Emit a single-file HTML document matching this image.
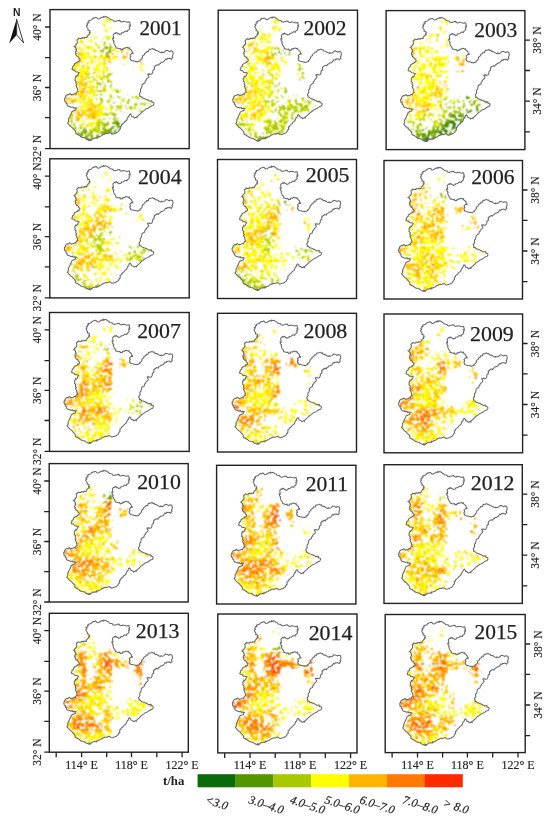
<!DOCTYPE html>
<html><head><meta charset="utf-8"><style>
html,body{margin:0;padding:0;background:#fff;width:550px;height:822px;overflow:hidden}
svg{display:block}
.yr{font-family:"Liberation Serif",serif;fill:#222;stroke:#222;stroke-width:0.25px}
.ax{font-family:"Liberation Serif",serif;font-size:11.5px;fill:#222;stroke:#222;stroke-width:0.15px}
.axb{font-family:"Liberation Serif",serif;font-size:12px;fill:#222;stroke:#222;stroke-width:0.15px}
.lg{font-family:"Liberation Serif",serif;font-style:italic;font-size:12px;fill:#222;stroke:#222;stroke-width:0.2px}
</style></head><body>
<svg width="550" height="822" viewBox="0 0 550 822">
<rect width="550" height="822" fill="#fff"/>
<defs>

<path id="ol" d="M36.8 14.3 L37.9 12.5 L40.1 10.7 L43.0 8.9 L45.9 7.8 L49.5 9.2 L52.8 7.6 L55.7 6.9 L59.4 8.7 L63.0 10.5 L65.9 11.6 L69.5 11.2 L71.7 12.3 L74.6 11.9 L77.5 12.7 L79.7 13.4 L80.4 15.9 L79.7 18.9 L77.5 21.0 L74.6 22.1 L71.7 23.2 L69.5 24.7 L66.6 22.9 L64.4 23.9 L63.4 26.9 L63.0 30.5 L64.1 34.1 L65.9 37.0 L68.8 39.2 L71.7 39.9 L74.6 38.5 L77.2 37.8 L79.4 38.5 L81.5 41.0 L83.0 43.2 L80.8 44.7 L80.1 47.6 L80.4 50.1 L83.0 51.2 L86.6 51.9 L90.3 51.2 L91.7 49.0 L92.4 46.9 L94.6 43.9 L96.8 41.8 L99.7 39.6 L102.6 38.9 L105.4 40.7 L108.1 41.5 L111.4 43.1 L114.1 42.6 L116.8 40.9 L119.5 42.0 L122.8 41.8 L123.1 44.5 L122.8 47.8 L121.7 49.9 L118.4 48.9 L115.7 49.4 L112.4 52.7 L109.2 54.3 L105.9 55.9 L104.3 58.1 L104.0 59.7 L102.8 62.2 L100.3 64.7 L97.8 64.4 L98.4 67.8 L96.0 70.9 L93.5 73.9 L91.6 77.6 L90.4 81.4 L89.2 84.4 L89.8 86.9 L92.3 88.2 L94.7 89.1 L97.9 90.4 L101.9 91.4 L103.9 93.4 L102.9 95.9 L99.9 97.4 L95.9 99.4 L91.9 102.4 L88.9 105.4 L86.9 107.9 L83.9 107.9 L81.4 105.4 L79.4 104.9 L77.9 107.4 L76.9 110.4 L73.9 113.4 L71.4 116.4 L69.9 119.4 L68.9 121.4 L65.9 123.4 L62.9 124.4 L59.9 123.0 L57.2 123.9 L53.5 124.9 L49.9 126.7 L47.2 128.5 L43.5 128.5 L41.3 130.3 L39.0 130.8 L36.3 129.4 L31.7 127.6 L29.0 125.8 L25.8 123.9 L24.4 120.3 L20.8 117.1 L17.6 113.5 L18.5 109.4 L20.8 104.9 L23.5 101.2 L25.9 100.7 L26.6 98.5 L23.0 97.4 L18.6 96.7 L17.2 94.5 L15.0 91.9 L15.0 88.3 L16.4 85.8 L19.4 84.3 L22.3 85.0 L25.9 84.3 L28.1 81.8 L27.0 78.1 L25.9 73.8 L25.2 70.4 L25.5 67.6 L28.1 65.4 L29.2 62.9 L25.2 61.8 L22.6 60.3 L22.6 57.4 L24.4 54.5 L28.1 52.3 L29.9 50.9 L28.8 47.9 L26.3 45.8 L25.5 43.6 L26.6 41.4 L25.9 39.2 L24.4 37.0 L25.2 35.6 L27.4 33.4 L27.7 29.6 L29.9 28.9 L34.3 28.5 L37.2 26.7 L39.4 24.5 L40.1 22.3 L37.9 20.5 L37.2 17.9Z"/>
<path id="olj" d="M36.8 14.3 L37.4 14.1 L38.0 13.8 L37.9 12.5 L39.0 12.5 L38.7 11.2 L40.1 10.7 L41.7 10.3 L42.6 8.9 L43.0 8.9 L43.9 8.2 L45.0 8.3 L45.9 7.8 L46.4 7.8 L48.0 9.4 L49.5 9.2 L51.0 8.2 L52.1 7.6 L52.8 7.6 L53.9 6.8 L54.0 7.7 L55.7 6.9 L56.5 7.1 L58.9 8.7 L59.4 8.7 L60.3 10.0 L61.9 10.2 L63.0 10.5 L63.5 11.5 L65.2 11.9 L65.9 11.6 L67.7 11.2 L68.1 10.8 L69.5 11.2 L69.7 10.9 L70.7 12.1 L71.7 12.3 L71.9 12.4 L73.4 11.7 L74.6 11.9 L76.0 12.1 L76.3 12.4 L77.5 12.7 L78.5 12.3 L79.7 12.5 L79.7 13.4 L80.3 14.8 L79.4 15.5 L80.4 15.9 L80.0 17.0 L79.2 17.2 L79.7 18.9 L78.5 20.3 L77.8 20.7 L77.5 21.0 L77.2 22.0 L75.3 21.5 L74.6 22.1 L73.7 22.9 L72.1 23.2 L71.7 23.2 L71.4 24.2 L69.5 24.9 L69.5 24.7 L67.9 23.9 L67.7 24.1 L66.6 22.9 L65.6 23.9 L65.2 23.3 L64.4 23.9 L63.8 24.4 L63.1 25.4 L63.4 26.9 L63.6 28.8 L62.6 28.6 L63.0 30.5 L64.1 31.8 L63.6 32.5 L64.1 34.1 L64.8 35.6 L65.2 35.9 L65.9 37.0 L66.2 38.4 L67.1 38.5 L68.8 39.2 L70.3 38.9 L71.1 40.3 L71.7 39.9 L72.9 39.9 L73.0 38.9 L74.6 38.5 L74.9 38.8 L76.0 38.0 L77.2 37.8 L78.7 38.6 L79.4 38.2 L79.4 38.5 L80.1 39.7 L80.8 39.9 L81.5 41.0 L81.9 41.2 L82.3 43.2 L83.0 43.2 L83.0 43.9 L81.5 44.0 L80.8 44.7 L80.0 45.3 L80.8 47.2 L80.1 47.6 L80.0 48.9 L80.7 49.6 L80.4 50.1 L81.5 50.9 L81.9 51.1 L83.0 51.2 L83.9 51.4 L85.8 52.0 L86.6 51.9 L87.5 52.3 L89.3 51.6 L90.3 51.2 L90.0 50.5 L90.9 50.0 L91.7 49.0 L91.9 48.8 L92.4 48.0 L92.4 46.9 L92.9 46.1 L94.2 45.4 L94.6 43.9 L95.1 43.7 L96.6 42.8 L96.8 41.8 L98.5 41.8 L98.8 40.4 L99.7 39.6 L100.2 39.9 L102.3 39.1 L102.6 38.9 L103.8 39.8 L104.8 39.6 L105.4 40.7 L106.7 41.1 L107.4 41.1 L108.1 41.5 L109.4 42.4 L110.5 42.9 L111.4 43.1 L111.6 42.4 L113.1 43.0 L114.1 42.6 L114.6 42.3 L116.1 40.8 L116.8 40.9 L117.7 40.9 L117.9 41.1 L119.5 42.0 L120.3 41.5 L121.2 41.2 L122.8 41.8 L122.8 42.5 L123.2 43.7 L123.1 44.5 L122.6 46.2 L122.2 46.6 L122.8 47.8 L122.1 48.4 L121.5 49.7 L121.7 49.9 L120.4 48.9 L119.7 48.6 L118.4 48.9 L117.6 48.8 L116.7 49.9 L115.7 49.4 L115.1 50.4 L114.0 51.8 L112.4 52.7 L111.1 52.7 L110.4 53.9 L109.2 54.3 L108.8 55.5 L107.2 55.1 L105.9 55.9 L106.0 55.9 L104.2 57.5 L104.3 58.1 L104.4 58.1 L104.3 59.8 L104.0 59.7 L103.4 60.4 L102.8 61.1 L102.8 62.2 L102.7 62.9 L101.8 64.5 L100.3 64.7 L99.6 64.2 L99.4 64.5 L97.8 64.4 L97.9 65.3 L98.9 66.7 L98.4 67.8 L97.3 68.8 L96.2 70.0 L96.0 70.9 L95.1 71.6 L94.8 73.4 L93.5 73.9 L92.1 75.2 L91.9 77.0 L91.6 77.6 L91.6 78.5 L90.5 79.6 L90.4 81.4 L90.7 82.1 L89.8 83.4 L89.2 84.4 L89.6 85.4 L90.0 85.5 L89.8 86.9 L91.0 87.0 L91.5 87.5 L92.3 88.2 L92.8 88.5 L93.8 88.6 L94.7 89.1 L96.1 89.7 L96.1 89.6 L97.9 90.4 L99.2 91.4 L101.1 91.1 L101.9 91.4 L101.8 92.5 L103.1 92.8 L103.9 93.4 L103.9 94.4 L103.2 95.7 L102.9 95.9 L101.7 96.2 L101.4 96.4 L99.9 97.4 L98.3 98.6 L96.6 99.2 L95.9 99.4 L94.9 100.3 L92.9 101.8 L91.9 102.4 L91.5 102.9 L89.9 104.5 L88.9 105.4 L88.2 106.0 L87.0 107.2 L86.9 107.9 L86.4 107.3 L84.5 108.4 L83.9 107.9 L83.5 107.3 L81.5 106.6 L81.4 105.4 L81.5 106.0 L80.4 104.4 L79.4 104.9 L79.4 105.3 L78.6 107.2 L77.9 107.4 L77.9 107.9 L76.9 110.0 L76.9 110.4 L75.4 111.6 L74.8 111.9 L73.9 113.4 L73.3 113.7 L71.6 115.2 L71.4 116.4 L70.3 116.7 L70.5 118.8 L69.9 119.4 L70.1 119.5 L69.1 120.5 L68.9 121.4 L68.1 122.1 L67.6 122.5 L65.9 123.4 L64.2 124.0 L63.4 124.3 L62.9 124.4 L61.9 124.5 L61.0 123.6 L59.9 123.0 L58.6 123.4 L57.7 124.0 L57.2 123.9 L56.0 123.7 L54.3 124.4 L53.5 124.9 L52.7 125.0 L51.4 126.3 L49.9 126.7 L48.4 127.6 L47.5 127.3 L47.2 128.5 L46.1 128.1 L45.3 128.5 L43.5 128.5 L42.5 129.5 L41.3 130.0 L41.3 130.3 L39.9 129.9 L40.4 130.9 L39.0 130.8 L37.7 129.8 L37.9 130.1 L36.3 129.4 L35.2 128.3 L33.4 128.0 L31.7 127.6 L30.4 126.7 L30.1 126.2 L29.0 125.8 L27.8 124.6 L27.4 124.8 L25.8 123.9 L25.8 122.6 L25.4 121.5 L24.4 120.3 L23.3 119.3 L22.4 118.0 L20.8 117.1 L19.1 115.2 L18.2 114.0 L17.6 113.5 L18.5 112.1 L18.6 110.0 L18.5 109.4 L19.2 108.5 L20.2 106.3 L20.8 104.9 L21.6 103.1 L22.1 101.9 L23.5 101.2 L24.1 100.9 L25.7 100.3 L25.9 100.7 L25.8 99.6 L25.9 98.9 L26.6 98.5 L25.0 98.1 L23.5 98.4 L23.0 97.4 L21.3 97.8 L20.3 97.2 L18.6 96.7 L18.1 96.6 L17.1 95.5 L17.2 94.5 L16.2 93.9 L16.1 92.3 L15.0 91.9 L14.6 90.0 L14.6 88.9 L15.0 88.3 L15.3 88.2 L15.7 86.4 L16.4 85.8 L17.4 85.0 L18.7 85.1 L19.4 84.3 L19.9 84.1 L21.6 85.4 L22.3 85.0 L23.7 84.7 L25.4 83.8 L25.9 84.3 L26.0 83.9 L27.2 82.0 L28.1 81.8 L27.8 81.3 L27.4 79.1 L27.0 78.1 L26.0 76.0 L26.9 75.2 L25.9 73.8 L26.3 72.0 L25.0 70.9 L25.2 70.4 L25.1 68.8 L25.0 68.4 L25.5 67.6 L26.1 66.2 L26.5 66.8 L28.1 65.4 L28.0 64.6 L28.7 63.8 L29.2 62.9 L27.2 62.3 L25.9 62.2 L25.2 61.8 L25.0 61.4 L24.0 60.4 L22.6 60.3 L21.9 59.4 L22.6 58.5 L22.6 57.4 L23.0 56.6 L24.1 56.1 L24.4 54.5 L25.3 53.7 L27.4 52.6 L28.1 52.3 L28.1 51.6 L28.7 51.8 L29.9 50.9 L30.0 49.6 L28.6 48.3 L28.8 47.9 L27.6 46.6 L27.0 46.6 L26.3 45.8 L25.7 44.4 L26.1 43.7 L25.5 43.6 L25.4 42.5 L26.0 41.5 L26.6 41.4 L26.2 40.4 L26.5 40.0 L25.9 39.2 L26.0 38.7 L25.3 37.8 L24.4 37.0 L24.6 37.0 L25.2 36.7 L25.2 35.6 L26.3 35.2 L26.3 34.6 L27.4 33.4 L27.3 31.6 L26.9 30.4 L27.7 29.6 L28.1 29.6 L28.8 28.5 L29.9 28.9 L31.8 28.9 L32.1 28.0 L34.3 28.5 L34.7 27.7 L36.8 28.0 L37.2 26.7 L38.1 25.6 L38.6 25.0 L39.4 24.5 L39.4 23.0 L40.0 23.5 L40.1 22.3 L39.7 21.1 L38.7 20.6 L37.9 20.5 L38.0 19.6 L38.1 19.2 L37.2 17.9 L36.5 16.4 L37.6 15.4Z"/>
<clipPath id="clip"><use href="#ol"/></clipPath>
<filter id="cb" x="0" y="0" width="140" height="140" filterUnits="userSpaceOnUse"><feGaussianBlur stdDeviation="2.2"/></filter>
<filter id="dz0" filterUnits="userSpaceOnUse" x="0" y="0" width="140" height="140" color-interpolation-filters="sRGB">
<feGaussianBlur in="SourceGraphic" stdDeviation="1.6" result="b"/>
<feTurbulence type="fractalNoise" baseFrequency="0.3" numOctaves="2" seed="3" result="n"/>
<feColorMatrix in="n" type="matrix" values="0 0 0 0 0 0 0 0 0 0 0 0 0 0 0 1 0 0 0 0" result="na"/>
<feComposite in="b" in2="na" operator="arithmetic" k2="1" k3="-2.4" k4="1.2" result="d"/>
<feComponentTransfer in="d" result="t"><feFuncR type="linear" slope="0" intercept="1"/><feFuncG type="linear" slope="0" intercept="1"/><feFuncB type="linear" slope="0" intercept="1"/><feFuncA type="discrete" tableValues="0 1"/></feComponentTransfer>
<feComponentTransfer in="b" result="bm"><feFuncA type="discrete" tableValues="0 1 1 1 1 1 1 1 1 1 1 1 1 1 1"/></feComponentTransfer>
<feComposite in="t" in2="bm" operator="in"/>
</filter>
<g id="cl0"><path fill="#ffff00" d="M14 6h112v8h-112zM14 14h112v8h-112zM14 22h112v8h-112zM14 30h112v8h-112zM14 38h40v8h-40zM62 38h64v8h-64zM14 46h112v8h-112zM14 54h112v8h-112zM14 62h112v8h-112zM14 70h112v8h-112zM14 78h112v8h-112zM14 86h112v8h-112zM14 94h112v8h-112zM14 102h112v8h-112zM14 110h48v8h-48zM78 110h48v8h-48zM14 118h16v8h-16zM38 118h16v8h-16zM86 118h40v8h-40zM14 126h16v8h-16zM102 126h24v8h-24z"/><path fill="#a8c800" d="M54 38h8v8h-8zM62 110h16v8h-16zM30 118h8v8h-8zM54 118h32v8h-32zM30 126h72v8h-72z"/></g><g id="cd0"><path fill="#ffb400" d="M14 6h88v8h-88zM14 14h72v8h-72zM118 14h8v8h-8zM14 22h64v8h-64zM110 22h16v8h-16zM14 30h32v8h-32zM102 30h24v8h-24zM30 38h16v8h-16zM62 38h8v8h-8zM94 38h32v8h-32zM30 46h24v8h-24zM62 46h8v8h-8zM86 46h40v8h-40zM14 54h56v8h-56zM78 54h48v8h-48zM14 62h24v8h-24zM46 62h8v8h-8zM78 62h48v8h-48zM14 70h16v8h-16zM38 70h8v8h-8zM86 70h8v8h-8zM14 78h16v8h-16zM38 78h8v8h-8zM54 78h8v8h-8zM30 86h16v8h-16zM14 94h24v8h-24zM46 94h16v8h-16zM46 102h8v8h-8zM30 110h16v8h-16z"/><path fill="#ff7a00" d="M102 6h24v8h-24zM86 14h32v8h-32zM78 22h32v8h-32zM70 30h32v8h-32zM14 38h16v8h-16zM70 38h24v8h-24zM14 46h16v8h-16zM54 46h8v8h-8zM70 46h16v8h-16zM70 54h8v8h-8zM70 62h8v8h-8zM30 70h8v8h-8zM30 78h8v8h-8zM14 86h16v8h-16zM38 94h8v8h-8zM22 102h24v8h-24z"/><path fill="#a8c800" d="M46 30h24v8h-24zM46 38h8v8h-8zM38 62h8v8h-8zM54 62h16v8h-16zM46 70h40v8h-40zM94 70h32v8h-32zM46 78h8v8h-8zM62 78h64v8h-64zM46 86h80v8h-80zM62 94h64v8h-64zM14 102h8v8h-8zM54 102h72v8h-72zM14 110h16v8h-16zM46 110h16v8h-16zM78 110h48v8h-48zM14 118h16v8h-16zM38 118h16v8h-16zM86 118h40v8h-40zM14 126h16v8h-16zM102 126h24v8h-24z"/><path fill="#559600" d="M54 38h8v8h-8zM62 110h16v8h-16zM30 118h8v8h-8zM54 118h32v8h-32zM30 126h72v8h-72z"/></g>
<mask id="m0" maskUnits="userSpaceOnUse" x="0" y="0" width="140" height="140"><g filter="url(#dz0)" fill="#fff"><path fill-opacity="0.37" d="M54 6h8v8h-8zM14 14h8v8h-8zM54 14h8v8h-8zM14 22h32v8h-32zM54 22h8v8h-8zM14 30h48v8h-48zM38 38h16v8h-16zM62 38h16v8h-16zM38 46h8v8h-8zM62 46h16v8h-16zM38 54h8v8h-8zM54 54h8v8h-8zM86 54h8v8h-8zM38 62h8v8h-8zM54 62h8v8h-8zM46 70h16v8h-16zM46 78h24v8h-24zM46 86h16v8h-16zM70 86h32v8h-32zM14 94h16v8h-16zM54 94h40v8h-40zM14 102h8v8h-8zM54 102h16v8h-16zM14 110h24v8h-24zM54 110h8v8h-8zM22 118h8v8h-8zM62 118h8v8h-8zM22 126h16v8h-16zM46 126h8v8h-8zM62 126h8v8h-8z"/><path fill-opacity="0.65" d="M14 38h24v8h-24zM54 38h8v8h-8zM14 46h24v8h-24zM46 46h16v8h-16zM14 54h24v8h-24zM46 54h8v8h-8zM14 62h24v8h-24zM46 62h8v8h-8zM14 70h32v8h-32zM22 78h24v8h-24zM14 86h32v8h-32zM30 94h24v8h-24zM22 102h32v8h-32zM38 110h16v8h-16zM62 110h8v8h-8zM30 118h32v8h-32zM38 126h8v8h-8zM54 126h8v8h-8z"/></g></mask>
<g id="c0"><path fill="#ffff00" d="M14 6h88v8h-88zM14 14h72v8h-72zM118 14h8v8h-8zM14 22h64v8h-64zM110 22h16v8h-16zM14 30h32v8h-32zM102 30h24v8h-24zM30 38h16v8h-16zM62 38h8v8h-8zM94 38h32v8h-32zM30 46h24v8h-24zM62 46h8v8h-8zM86 46h40v8h-40zM14 54h56v8h-56zM78 54h48v8h-48zM14 62h24v8h-24zM46 62h8v8h-8zM78 62h48v8h-48zM14 70h16v8h-16zM38 70h8v8h-8zM86 70h8v8h-8zM14 78h16v8h-16zM38 78h8v8h-8zM54 78h8v8h-8zM30 86h16v8h-16zM14 94h24v8h-24zM46 94h16v8h-16zM46 102h8v8h-8zM30 110h16v8h-16z"/><path fill="#ffb400" d="M102 6h24v8h-24zM86 14h32v8h-32zM78 22h32v8h-32zM70 30h32v8h-32zM14 38h16v8h-16zM70 38h24v8h-24zM14 46h16v8h-16zM54 46h8v8h-8zM70 46h16v8h-16zM70 54h8v8h-8zM70 62h8v8h-8zM30 70h8v8h-8zM30 78h8v8h-8zM14 86h16v8h-16zM38 94h8v8h-8zM22 102h24v8h-24z"/><path fill="#a8c800" d="M46 30h24v8h-24zM46 38h8v8h-8zM38 62h8v8h-8zM54 62h16v8h-16zM46 70h40v8h-40zM94 70h32v8h-32zM46 78h8v8h-8zM62 78h64v8h-64zM46 86h80v8h-80zM62 94h64v8h-64zM14 102h8v8h-8zM54 102h72v8h-72zM14 110h16v8h-16zM46 110h16v8h-16zM78 110h48v8h-48zM14 118h16v8h-16zM38 118h16v8h-16zM86 118h40v8h-40zM14 126h16v8h-16zM102 126h24v8h-24z"/><path fill="#559600" d="M54 38h8v8h-8zM62 110h16v8h-16zM30 118h8v8h-8zM54 118h32v8h-32zM30 126h72v8h-72z"/></g>
<filter id="dz1" filterUnits="userSpaceOnUse" x="0" y="0" width="140" height="140" color-interpolation-filters="sRGB">
<feGaussianBlur in="SourceGraphic" stdDeviation="1.6" result="b"/>
<feTurbulence type="fractalNoise" baseFrequency="0.3" numOctaves="2" seed="10" result="n"/>
<feColorMatrix in="n" type="matrix" values="0 0 0 0 0 0 0 0 0 0 0 0 0 0 0 1 0 0 0 0" result="na"/>
<feComposite in="b" in2="na" operator="arithmetic" k2="1" k3="-2.4" k4="1.2" result="d"/>
<feComponentTransfer in="d" result="t"><feFuncR type="linear" slope="0" intercept="1"/><feFuncG type="linear" slope="0" intercept="1"/><feFuncB type="linear" slope="0" intercept="1"/><feFuncA type="discrete" tableValues="0 1"/></feComponentTransfer>
<feComponentTransfer in="b" result="bm"><feFuncA type="discrete" tableValues="0 1 1 1 1 1 1 1 1 1 1 1 1 1 1"/></feComponentTransfer>
<feComposite in="t" in2="bm" operator="in"/>
</filter>
<g id="cl1"><path fill="#ffff00" d="M14 6h112v8h-112zM14 14h88v8h-88zM110 14h16v8h-16zM14 22h64v8h-64zM102 22h24v8h-24zM14 30h48v8h-48zM94 30h32v8h-32zM14 38h40v8h-40zM86 38h40v8h-40zM14 46h112v8h-112zM14 54h112v8h-112zM14 62h112v8h-112zM14 70h112v8h-112zM14 78h112v8h-112zM14 86h112v8h-112zM14 94h112v8h-112zM14 102h112v8h-112zM14 110h112v8h-112zM14 118h112v8h-112zM14 126h24v8h-24zM54 126h72v8h-72z"/><path fill="#a8c800" d="M102 14h8v8h-8zM78 22h24v8h-24zM62 30h32v8h-32zM54 38h32v8h-32zM38 126h16v8h-16z"/></g><g id="cd1"><path fill="#ffb400" d="M14 6h104v8h-104zM14 14h88v8h-88zM14 22h64v8h-64zM14 30h16v8h-16zM38 30h24v8h-24zM14 38h16v8h-16zM38 38h16v8h-16zM14 46h32v8h-32zM54 46h24v8h-24zM14 54h56v8h-56zM14 62h32v8h-32zM54 62h16v8h-16zM30 70h24v8h-24zM22 78h8v8h-8zM38 78h16v8h-16zM30 86h16v8h-16zM22 94h16v8h-16zM46 94h8v8h-8zM22 102h8v8h-8zM38 102h16v8h-16zM30 110h16v8h-16z"/><path fill="#a8c800" d="M118 6h8v8h-8zM110 14h16v8h-16zM102 22h24v8h-24zM94 30h32v8h-32zM86 38h40v8h-40zM78 46h48v8h-48zM70 54h56v8h-56zM46 62h8v8h-8zM70 62h56v8h-56zM14 70h16v8h-16zM54 70h72v8h-72zM14 78h8v8h-8zM54 78h72v8h-72zM46 86h80v8h-80zM54 94h72v8h-72zM14 102h8v8h-8zM54 102h72v8h-72zM14 110h16v8h-16zM46 110h80v8h-80zM14 118h112v8h-112zM14 126h24v8h-24zM54 126h72v8h-72z"/><path fill="#559600" d="M102 14h8v8h-8zM78 22h24v8h-24zM62 30h32v8h-32zM54 38h32v8h-32zM38 126h16v8h-16z"/><path fill="#ff7a00" d="M30 30h8v8h-8zM30 38h8v8h-8zM46 46h8v8h-8zM30 78h8v8h-8zM14 86h16v8h-16zM14 94h8v8h-8zM38 94h8v8h-8zM30 102h8v8h-8z"/></g>
<mask id="m1" maskUnits="userSpaceOnUse" x="0" y="0" width="140" height="140"><g filter="url(#dz1)" fill="#fff"><path fill-opacity="0.37" d="M54 6h8v8h-8zM54 14h8v8h-8zM30 22h8v8h-8zM46 22h8v8h-8zM14 30h40v8h-40zM14 38h24v8h-24zM54 38h16v8h-16zM14 46h24v8h-24zM54 46h16v8h-16zM14 54h16v8h-16zM78 54h8v8h-8zM38 62h24v8h-24zM78 62h8v8h-8zM14 70h16v8h-16zM54 70h8v8h-8zM54 78h16v8h-16zM46 86h16v8h-16zM70 86h32v8h-32zM22 94h8v8h-8zM54 94h8v8h-8zM14 102h8v8h-8zM46 102h8v8h-8zM70 102h8v8h-8zM14 110h24v8h-24zM22 118h8v8h-8zM62 118h8v8h-8zM22 126h16v8h-16zM46 126h8v8h-8zM62 126h8v8h-8z"/><path fill-opacity="0.65" d="M38 22h8v8h-8zM38 38h16v8h-16zM38 46h16v8h-16zM30 54h8v8h-8zM46 54h16v8h-16zM14 62h24v8h-24zM30 70h24v8h-24zM22 78h32v8h-32zM14 86h32v8h-32zM30 94h24v8h-24zM62 94h32v8h-32zM22 102h24v8h-24zM62 102h8v8h-8zM46 110h24v8h-24zM30 118h8v8h-8zM46 118h16v8h-16zM38 126h8v8h-8zM54 126h8v8h-8z"/></g></mask>
<g id="c1"><path fill="#ffff00" d="M14 6h104v8h-104zM14 14h88v8h-88zM14 22h64v8h-64zM14 30h16v8h-16zM38 30h24v8h-24zM14 38h16v8h-16zM38 38h16v8h-16zM14 46h32v8h-32zM54 46h24v8h-24zM14 54h56v8h-56zM14 62h32v8h-32zM54 62h16v8h-16zM30 70h24v8h-24zM22 78h8v8h-8zM38 78h16v8h-16zM30 86h16v8h-16zM22 94h16v8h-16zM46 94h8v8h-8zM22 102h8v8h-8zM38 102h16v8h-16zM30 110h16v8h-16z"/><path fill="#a8c800" d="M118 6h8v8h-8zM110 14h16v8h-16zM102 22h24v8h-24zM94 30h32v8h-32zM86 38h40v8h-40zM78 46h48v8h-48zM70 54h56v8h-56zM46 62h8v8h-8zM70 62h56v8h-56zM14 70h16v8h-16zM54 70h72v8h-72zM14 78h8v8h-8zM54 78h72v8h-72zM46 86h80v8h-80zM54 94h72v8h-72zM14 102h8v8h-8zM54 102h72v8h-72zM14 110h16v8h-16zM46 110h80v8h-80zM14 118h112v8h-112zM14 126h24v8h-24zM54 126h72v8h-72z"/><path fill="#559600" d="M102 14h8v8h-8zM78 22h24v8h-24zM62 30h32v8h-32zM54 38h32v8h-32zM38 126h16v8h-16z"/><path fill="#ffb400" d="M30 30h8v8h-8zM30 38h8v8h-8zM46 46h8v8h-8zM30 78h8v8h-8zM14 86h16v8h-16zM14 94h8v8h-8zM38 94h8v8h-8zM30 102h8v8h-8z"/></g>
<filter id="dz2" filterUnits="userSpaceOnUse" x="0" y="0" width="140" height="140" color-interpolation-filters="sRGB">
<feGaussianBlur in="SourceGraphic" stdDeviation="1.6" result="b"/>
<feTurbulence type="fractalNoise" baseFrequency="0.3" numOctaves="2" seed="17" result="n"/>
<feColorMatrix in="n" type="matrix" values="0 0 0 0 0 0 0 0 0 0 0 0 0 0 0 1 0 0 0 0" result="na"/>
<feComposite in="b" in2="na" operator="arithmetic" k2="1" k3="-2.4" k4="1.2" result="d"/>
<feComponentTransfer in="d" result="t"><feFuncR type="linear" slope="0" intercept="1"/><feFuncG type="linear" slope="0" intercept="1"/><feFuncB type="linear" slope="0" intercept="1"/><feFuncA type="discrete" tableValues="0 1"/></feComponentTransfer>
<feComponentTransfer in="b" result="bm"><feFuncA type="discrete" tableValues="0 1 1 1 1 1 1 1 1 1 1 1 1 1 1"/></feComponentTransfer>
<feComposite in="t" in2="bm" operator="in"/>
</filter>
<g id="cl2"><path fill="#ffff00" d="M14 6h112v8h-112zM14 14h112v8h-112zM14 22h112v8h-112zM14 30h112v8h-112zM14 38h112v8h-112zM14 46h104v8h-104zM14 54h96v8h-96zM14 62h80v8h-80zM14 70h64v8h-64zM86 70h8v8h-8zM14 78h64v8h-64zM86 78h8v8h-8zM14 86h64v8h-64zM86 86h8v8h-8zM14 94h64v8h-64zM14 102h48v8h-48zM14 110h40v8h-40zM14 118h16v8h-16zM14 126h16v8h-16z"/><path fill="#a8c800" d="M118 46h8v8h-8zM110 54h16v8h-16zM94 62h32v8h-32zM78 70h8v8h-8zM94 70h32v8h-32zM78 78h8v8h-8zM94 78h32v8h-32zM78 86h8v8h-8zM94 86h32v8h-32zM78 94h48v8h-48zM62 102h64v8h-64zM54 110h8v8h-8zM70 110h56v8h-56zM30 118h24v8h-24zM62 118h64v8h-64zM30 126h8v8h-8zM46 126h8v8h-8zM62 126h64v8h-64z"/><path fill="#559600" d="M62 110h8v8h-8zM54 118h8v8h-8zM38 126h8v8h-8zM54 126h8v8h-8z"/></g><g id="cd2"><path fill="#ffb400" d="M14 6h104v8h-104zM14 14h88v8h-88zM14 22h72v8h-72zM14 30h64v8h-64zM30 38h40v8h-40zM14 46h56v8h-56zM14 54h56v8h-56zM14 62h56v8h-56zM14 70h40v8h-40zM14 78h32v8h-32zM54 78h16v8h-16zM30 86h24v8h-24zM22 94h8v8h-8zM46 94h8v8h-8zM22 102h16v8h-16zM46 102h8v8h-8z"/><path fill="#ff7a00" d="M118 6h8v8h-8zM102 14h24v8h-24zM86 22h40v8h-40zM78 30h48v8h-48zM14 38h16v8h-16zM70 38h56v8h-56zM70 46h48v8h-48zM70 54h40v8h-40zM70 62h24v8h-24zM54 70h24v8h-24zM46 78h8v8h-8zM14 86h16v8h-16zM14 94h8v8h-8zM30 94h16v8h-16z"/><path fill="#559600" d="M118 46h8v8h-8zM110 54h16v8h-16zM94 62h32v8h-32zM78 70h8v8h-8zM94 70h32v8h-32zM78 78h8v8h-8zM94 78h32v8h-32zM78 86h8v8h-8zM94 86h32v8h-32zM78 94h48v8h-48zM62 102h64v8h-64zM54 110h8v8h-8zM70 110h56v8h-56zM30 118h24v8h-24zM62 118h64v8h-64zM30 126h8v8h-8zM46 126h8v8h-8zM62 126h64v8h-64z"/><path fill="#a8c800" d="M86 70h8v8h-8zM70 78h8v8h-8zM86 78h8v8h-8zM54 86h24v8h-24zM86 86h8v8h-8zM54 94h24v8h-24zM14 102h8v8h-8zM38 102h8v8h-8zM54 102h8v8h-8zM14 110h40v8h-40zM14 118h16v8h-16zM14 126h16v8h-16z"/><path fill="#0b6b0b" d="M62 110h8v8h-8zM54 118h8v8h-8zM38 126h8v8h-8zM54 126h8v8h-8z"/></g>
<mask id="m2" maskUnits="userSpaceOnUse" x="0" y="0" width="140" height="140"><g filter="url(#dz2)" fill="#fff"><path fill-opacity="0.37" d="M54 6h8v8h-8zM54 14h8v8h-8zM30 22h24v8h-24zM14 30h32v8h-32zM54 30h8v8h-8zM30 38h24v8h-24zM14 46h32v8h-32zM14 54h16v8h-16zM38 54h8v8h-8zM54 54h8v8h-8zM70 54h8v8h-8zM14 62h16v8h-16zM46 62h16v8h-16zM14 70h24v8h-24zM54 70h8v8h-8zM14 86h8v8h-8zM46 86h56v8h-56zM22 94h8v8h-8zM46 94h48v8h-48zM14 102h16v8h-16zM38 102h24v8h-24zM22 110h16v8h-16zM70 110h8v8h-8zM22 118h8v8h-8zM62 118h8v8h-8zM22 126h8v8h-8zM62 126h8v8h-8z"/><path fill-opacity="0.65" d="M14 38h16v8h-16zM46 46h16v8h-16zM70 46h8v8h-8zM30 54h8v8h-8zM46 54h8v8h-8zM30 62h16v8h-16zM38 70h16v8h-16zM22 78h40v8h-40zM22 86h24v8h-24zM30 94h16v8h-16zM30 102h8v8h-8zM62 102h16v8h-16zM46 110h24v8h-24zM30 118h32v8h-32zM30 126h32v8h-32z"/></g></mask>
<g id="c2"><path fill="#ffff00" d="M14 6h104v8h-104zM14 14h88v8h-88zM14 22h72v8h-72zM14 30h64v8h-64zM30 38h40v8h-40zM14 46h56v8h-56zM14 54h56v8h-56zM14 62h56v8h-56zM14 70h40v8h-40zM14 78h32v8h-32zM54 78h16v8h-16zM30 86h24v8h-24zM22 94h8v8h-8zM46 94h8v8h-8zM22 102h16v8h-16zM46 102h8v8h-8z"/><path fill="#ffb400" d="M118 6h8v8h-8zM102 14h24v8h-24zM86 22h40v8h-40zM78 30h48v8h-48zM14 38h16v8h-16zM70 38h56v8h-56zM70 46h48v8h-48zM70 54h40v8h-40zM70 62h24v8h-24zM54 70h24v8h-24zM46 78h8v8h-8zM14 86h16v8h-16zM14 94h8v8h-8zM30 94h16v8h-16z"/><path fill="#559600" d="M118 46h8v8h-8zM110 54h16v8h-16zM94 62h32v8h-32zM78 70h8v8h-8zM94 70h32v8h-32zM78 78h8v8h-8zM94 78h32v8h-32zM78 86h8v8h-8zM94 86h32v8h-32zM78 94h48v8h-48zM62 102h64v8h-64zM54 110h8v8h-8zM70 110h56v8h-56zM30 118h24v8h-24zM62 118h64v8h-64zM30 126h8v8h-8zM46 126h8v8h-8zM62 126h64v8h-64z"/><path fill="#a8c800" d="M86 70h8v8h-8zM70 78h8v8h-8zM86 78h8v8h-8zM54 86h24v8h-24zM86 86h8v8h-8zM54 94h24v8h-24zM14 102h8v8h-8zM38 102h8v8h-8zM54 102h8v8h-8zM14 110h40v8h-40zM14 118h16v8h-16zM14 126h16v8h-16z"/><path fill="#0b6b0b" d="M62 110h8v8h-8zM54 118h8v8h-8zM38 126h8v8h-8zM54 126h8v8h-8z"/></g>
<filter id="dz3" filterUnits="userSpaceOnUse" x="0" y="0" width="140" height="140" color-interpolation-filters="sRGB">
<feGaussianBlur in="SourceGraphic" stdDeviation="1.6" result="b"/>
<feTurbulence type="fractalNoise" baseFrequency="0.3" numOctaves="2" seed="24" result="n"/>
<feColorMatrix in="n" type="matrix" values="0 0 0 0 0 0 0 0 0 0 0 0 0 0 0 1 0 0 0 0" result="na"/>
<feComposite in="b" in2="na" operator="arithmetic" k2="1" k3="-2.4" k4="1.2" result="d"/>
<feComponentTransfer in="d" result="t"><feFuncR type="linear" slope="0" intercept="1"/><feFuncG type="linear" slope="0" intercept="1"/><feFuncB type="linear" slope="0" intercept="1"/><feFuncA type="discrete" tableValues="0 1"/></feComponentTransfer>
<feComponentTransfer in="b" result="bm"><feFuncA type="discrete" tableValues="0 1 1 1 1 1 1 1 1 1 1 1 1 1 1"/></feComponentTransfer>
<feComposite in="t" in2="bm" operator="in"/>
</filter>
<g id="cl3"><path fill="#ffff00" d="M14 6h112v8h-112zM14 14h112v8h-112zM14 22h112v8h-112zM14 30h112v8h-112zM14 38h112v8h-112zM14 46h112v8h-112zM14 54h112v8h-112zM14 62h112v8h-112zM14 70h112v8h-112zM14 78h112v8h-112zM14 86h112v8h-112zM14 94h112v8h-112zM14 102h112v8h-112zM14 110h112v8h-112zM14 118h112v8h-112zM14 126h32v8h-32zM54 126h72v8h-72z"/><path fill="#a8c800" d="M46 126h8v8h-8z"/></g><g id="cd3"><path fill="#ffb400" d="M14 6h112v8h-112zM14 14h112v8h-112zM14 22h72v8h-72zM94 22h32v8h-32zM14 30h16v8h-16zM38 30h40v8h-40zM94 30h32v8h-32zM30 38h40v8h-40zM86 38h40v8h-40zM14 46h40v8h-40zM62 46h8v8h-8zM86 46h40v8h-40zM14 54h32v8h-32zM54 54h16v8h-16zM78 54h48v8h-48zM14 62h24v8h-24zM78 62h48v8h-48zM14 70h16v8h-16zM70 70h8v8h-8zM86 70h8v8h-8zM14 78h8v8h-8zM30 78h8v8h-8zM54 78h24v8h-24zM22 86h24v8h-24zM54 86h16v8h-16zM22 94h8v8h-8zM46 94h8v8h-8zM62 94h16v8h-16zM46 102h32v8h-32zM30 110h8v8h-8zM46 110h32v8h-32zM38 118h48v8h-48zM54 126h32v8h-32z"/><path fill="#ff7a00" d="M86 22h8v8h-8zM30 30h8v8h-8zM78 30h16v8h-16zM14 38h16v8h-16zM70 38h16v8h-16zM54 46h8v8h-8zM70 46h16v8h-16zM46 54h8v8h-8zM70 54h8v8h-8zM38 62h40v8h-40zM30 70h16v8h-16zM22 78h8v8h-8zM14 86h8v8h-8zM14 94h8v8h-8zM30 94h16v8h-16zM54 94h8v8h-8zM22 102h24v8h-24zM38 110h8v8h-8z"/><path fill="#a8c800" d="M46 70h24v8h-24zM78 70h8v8h-8zM94 70h32v8h-32zM38 78h16v8h-16zM78 78h48v8h-48zM46 86h8v8h-8zM70 86h56v8h-56zM78 94h48v8h-48zM14 102h8v8h-8zM78 102h48v8h-48zM14 110h16v8h-16zM78 110h48v8h-48zM14 118h24v8h-24zM86 118h40v8h-40zM14 126h32v8h-32zM86 126h40v8h-40z"/><path fill="#559600" d="M46 126h8v8h-8z"/></g>
<mask id="m3" maskUnits="userSpaceOnUse" x="0" y="0" width="140" height="140"><g filter="url(#dz3)" fill="#fff"><path fill-opacity="0.37" d="M54 14h8v8h-8zM30 22h16v8h-16zM14 30h32v8h-32zM54 30h8v8h-8zM30 38h32v8h-32zM14 46h24v8h-24zM62 46h16v8h-16zM14 54h16v8h-16zM38 54h8v8h-8zM54 54h8v8h-8zM86 54h8v8h-8zM14 62h16v8h-16zM46 70h16v8h-16zM38 78h8v8h-8zM54 78h16v8h-16zM22 86h8v8h-8zM38 86h8v8h-8zM54 86h8v8h-8zM78 86h24v8h-24zM22 94h8v8h-8zM62 94h16v8h-16zM14 102h8v8h-8zM54 102h16v8h-16zM14 110h24v8h-24zM46 110h16v8h-16zM22 118h40v8h-40zM22 126h8v8h-8zM46 126h16v8h-16z"/><path fill-opacity="0.65" d="M14 38h16v8h-16zM46 46h16v8h-16zM30 54h8v8h-8zM46 54h8v8h-8zM30 62h32v8h-32zM14 70h32v8h-32zM22 78h16v8h-16zM46 78h8v8h-8zM14 86h8v8h-8zM30 86h8v8h-8zM46 86h8v8h-8zM30 94h32v8h-32zM78 94h16v8h-16zM22 102h32v8h-32zM30 126h16v8h-16z"/></g></mask>
<g id="c3"><path fill="#ffff00" d="M14 6h112v8h-112zM14 14h112v8h-112zM14 22h72v8h-72zM94 22h32v8h-32zM14 30h16v8h-16zM38 30h40v8h-40zM94 30h32v8h-32zM30 38h40v8h-40zM86 38h40v8h-40zM14 46h40v8h-40zM62 46h8v8h-8zM86 46h40v8h-40zM14 54h32v8h-32zM54 54h16v8h-16zM78 54h48v8h-48zM14 62h24v8h-24zM78 62h48v8h-48zM14 70h16v8h-16zM70 70h8v8h-8zM86 70h8v8h-8zM14 78h8v8h-8zM30 78h8v8h-8zM54 78h24v8h-24zM22 86h24v8h-24zM54 86h16v8h-16zM22 94h8v8h-8zM46 94h8v8h-8zM62 94h16v8h-16zM46 102h32v8h-32zM30 110h8v8h-8zM46 110h32v8h-32zM38 118h48v8h-48zM54 126h32v8h-32z"/><path fill="#ffb400" d="M86 22h8v8h-8zM30 30h8v8h-8zM78 30h16v8h-16zM14 38h16v8h-16zM70 38h16v8h-16zM54 46h8v8h-8zM70 46h16v8h-16zM46 54h8v8h-8zM70 54h8v8h-8zM38 62h40v8h-40zM30 70h16v8h-16zM22 78h8v8h-8zM14 86h8v8h-8zM14 94h8v8h-8zM30 94h16v8h-16zM54 94h8v8h-8zM22 102h24v8h-24zM38 110h8v8h-8z"/><path fill="#a8c800" d="M46 70h24v8h-24zM78 70h8v8h-8zM94 70h32v8h-32zM38 78h16v8h-16zM78 78h48v8h-48zM46 86h8v8h-8zM70 86h56v8h-56zM78 94h48v8h-48zM14 102h8v8h-8zM78 102h48v8h-48zM14 110h16v8h-16zM78 110h48v8h-48zM14 118h24v8h-24zM86 118h40v8h-40zM14 126h32v8h-32zM86 126h40v8h-40z"/><path fill="#559600" d="M46 126h8v8h-8z"/></g>
<filter id="dz4" filterUnits="userSpaceOnUse" x="0" y="0" width="140" height="140" color-interpolation-filters="sRGB">
<feGaussianBlur in="SourceGraphic" stdDeviation="1.6" result="b"/>
<feTurbulence type="fractalNoise" baseFrequency="0.3" numOctaves="2" seed="31" result="n"/>
<feColorMatrix in="n" type="matrix" values="0 0 0 0 0 0 0 0 0 0 0 0 0 0 0 1 0 0 0 0" result="na"/>
<feComposite in="b" in2="na" operator="arithmetic" k2="1" k3="-2.4" k4="1.2" result="d"/>
<feComponentTransfer in="d" result="t"><feFuncR type="linear" slope="0" intercept="1"/><feFuncG type="linear" slope="0" intercept="1"/><feFuncB type="linear" slope="0" intercept="1"/><feFuncA type="discrete" tableValues="0 1"/></feComponentTransfer>
<feComponentTransfer in="b" result="bm"><feFuncA type="discrete" tableValues="0 1 1 1 1 1 1 1 1 1 1 1 1 1 1"/></feComponentTransfer>
<feComposite in="t" in2="bm" operator="in"/>
</filter>
<g id="cl4"><path fill="#ffff00" d="M14 6h112v8h-112zM14 14h112v8h-112zM14 22h64v8h-64zM94 22h32v8h-32zM14 30h48v8h-48zM86 30h40v8h-40zM14 38h48v8h-48zM78 38h48v8h-48zM14 46h48v8h-48zM70 46h56v8h-56zM14 54h112v8h-112zM14 62h112v8h-112zM14 70h112v8h-112zM14 78h112v8h-112zM14 86h112v8h-112zM14 94h112v8h-112zM14 102h112v8h-112zM14 110h112v8h-112zM14 118h112v8h-112zM14 126h112v8h-112z"/><path fill="#a8c800" d="M78 22h16v8h-16zM62 30h24v8h-24zM62 38h16v8h-16zM62 46h8v8h-8z"/></g><g id="cd4"><path fill="#ffb400" d="M14 6h112v8h-112zM14 14h112v8h-112zM14 22h64v8h-64zM94 22h32v8h-32zM14 30h16v8h-16zM38 30h24v8h-24zM94 30h32v8h-32zM30 38h32v8h-32zM86 38h40v8h-40zM14 46h40v8h-40zM86 46h40v8h-40zM14 54h32v8h-32zM78 54h48v8h-48zM14 62h32v8h-32zM54 62h16v8h-16zM78 62h48v8h-48zM14 70h16v8h-16zM78 70h32v8h-32zM14 78h16v8h-16zM38 78h8v8h-8zM54 78h16v8h-16zM22 86h24v8h-24zM54 86h16v8h-16zM22 94h56v8h-56zM30 102h8v8h-8zM46 102h32v8h-32zM30 110h48v8h-48zM78 118h8v8h-8z"/><path fill="#559600" d="M78 22h16v8h-16zM62 30h24v8h-24zM62 38h16v8h-16zM62 46h8v8h-8z"/><path fill="#ff7a00" d="M30 30h8v8h-8zM86 30h8v8h-8zM14 38h16v8h-16zM78 38h8v8h-8zM54 46h8v8h-8zM70 46h16v8h-16zM46 54h32v8h-32zM46 62h8v8h-8zM70 62h8v8h-8zM30 70h16v8h-16zM54 70h24v8h-24zM30 78h8v8h-8zM14 86h8v8h-8zM14 94h8v8h-8zM14 102h16v8h-16zM38 102h8v8h-8z"/><path fill="#a8c800" d="M46 70h8v8h-8zM110 70h16v8h-16zM46 78h8v8h-8zM70 78h56v8h-56zM46 86h8v8h-8zM70 86h56v8h-56zM78 94h48v8h-48zM78 102h48v8h-48zM14 110h16v8h-16zM78 110h48v8h-48zM14 118h64v8h-64zM86 118h40v8h-40zM14 126h112v8h-112z"/></g>
<mask id="m4" maskUnits="userSpaceOnUse" x="0" y="0" width="140" height="140"><g filter="url(#dz4)" fill="#fff"><path fill-opacity="0.37" d="M54 14h8v8h-8zM30 22h16v8h-16zM14 30h40v8h-40zM30 38h40v8h-40zM14 46h32v8h-32zM70 46h8v8h-8zM14 54h16v8h-16zM86 54h8v8h-8zM14 62h16v8h-16zM86 62h8v8h-8zM46 70h8v8h-8zM54 78h8v8h-8zM22 86h8v8h-8zM54 86h8v8h-8zM78 86h24v8h-24zM22 94h8v8h-8zM54 94h40v8h-40zM14 102h8v8h-8zM38 102h8v8h-8zM54 102h16v8h-16zM14 110h48v8h-48zM46 118h16v8h-16zM46 126h16v8h-16z"/><path fill-opacity="0.65" d="M14 38h16v8h-16zM46 46h16v8h-16zM30 54h32v8h-32zM30 62h32v8h-32zM14 70h32v8h-32zM54 70h8v8h-8zM22 78h32v8h-32zM14 86h8v8h-8zM30 86h24v8h-24zM30 94h24v8h-24zM22 102h16v8h-16zM46 102h8v8h-8zM22 118h24v8h-24zM22 126h24v8h-24z"/></g></mask>
<g id="c4"><path fill="#ffff00" d="M14 6h112v8h-112zM14 14h112v8h-112zM14 22h64v8h-64zM94 22h32v8h-32zM14 30h16v8h-16zM38 30h24v8h-24zM94 30h32v8h-32zM30 38h32v8h-32zM86 38h40v8h-40zM14 46h40v8h-40zM86 46h40v8h-40zM14 54h32v8h-32zM78 54h48v8h-48zM14 62h32v8h-32zM54 62h16v8h-16zM78 62h48v8h-48zM14 70h16v8h-16zM78 70h32v8h-32zM14 78h16v8h-16zM38 78h8v8h-8zM54 78h16v8h-16zM22 86h24v8h-24zM54 86h16v8h-16zM22 94h56v8h-56zM30 102h8v8h-8zM46 102h32v8h-32zM30 110h48v8h-48zM78 118h8v8h-8z"/><path fill="#559600" d="M78 22h16v8h-16zM62 30h24v8h-24zM62 38h16v8h-16zM62 46h8v8h-8z"/><path fill="#ffb400" d="M30 30h8v8h-8zM86 30h8v8h-8zM14 38h16v8h-16zM78 38h8v8h-8zM54 46h8v8h-8zM70 46h16v8h-16zM46 54h32v8h-32zM46 62h8v8h-8zM70 62h8v8h-8zM30 70h16v8h-16zM54 70h24v8h-24zM30 78h8v8h-8zM14 86h8v8h-8zM14 94h8v8h-8zM14 102h16v8h-16zM38 102h8v8h-8z"/><path fill="#a8c800" d="M46 70h8v8h-8zM110 70h16v8h-16zM46 78h8v8h-8zM70 78h56v8h-56zM46 86h8v8h-8zM70 86h56v8h-56zM78 94h48v8h-48zM78 102h48v8h-48zM14 110h16v8h-16zM78 110h48v8h-48zM14 118h64v8h-64zM86 118h40v8h-40zM14 126h112v8h-112z"/></g>
<filter id="dz5" filterUnits="userSpaceOnUse" x="0" y="0" width="140" height="140" color-interpolation-filters="sRGB">
<feGaussianBlur in="SourceGraphic" stdDeviation="1.6" result="b"/>
<feTurbulence type="fractalNoise" baseFrequency="0.3" numOctaves="2" seed="38" result="n"/>
<feColorMatrix in="n" type="matrix" values="0 0 0 0 0 0 0 0 0 0 0 0 0 0 0 1 0 0 0 0" result="na"/>
<feComposite in="b" in2="na" operator="arithmetic" k2="1" k3="-2.4" k4="1.2" result="d"/>
<feComponentTransfer in="d" result="t"><feFuncR type="linear" slope="0" intercept="1"/><feFuncG type="linear" slope="0" intercept="1"/><feFuncB type="linear" slope="0" intercept="1"/><feFuncA type="discrete" tableValues="0 1"/></feComponentTransfer>
<feComponentTransfer in="b" result="bm"><feFuncA type="discrete" tableValues="0 1 1 1 1 1 1 1 1 1 1 1 1 1 1"/></feComponentTransfer>
<feComposite in="t" in2="bm" operator="in"/>
</filter>
<g id="cl5"><path fill="#ffff00" d="M14 6h112v8h-112zM14 14h112v8h-112zM14 22h112v8h-112zM14 30h40v8h-40zM78 30h48v8h-48zM14 38h112v8h-112zM14 46h112v8h-112zM14 54h112v8h-112zM14 62h112v8h-112zM14 70h112v8h-112zM14 78h112v8h-112zM14 86h112v8h-112zM14 94h112v8h-112zM14 102h112v8h-112zM14 110h112v8h-112zM14 118h112v8h-112zM14 126h112v8h-112z"/><path fill="#a8c800" d="M54 30h24v8h-24z"/></g><g id="cd5"><path fill="#ffb400" d="M14 6h24v8h-24zM46 6h64v8h-64zM14 14h24v8h-24zM46 14h56v8h-56zM14 22h24v8h-24zM54 22h32v8h-32zM14 30h16v8h-16zM38 38h32v8h-32zM38 46h8v8h-8zM14 54h16v8h-16zM38 54h8v8h-8zM14 62h24v8h-24zM54 62h32v8h-32zM14 70h16v8h-16zM38 70h8v8h-8zM70 70h16v8h-16zM110 70h16v8h-16zM14 78h16v8h-16zM38 78h88v8h-88zM22 86h104v8h-104zM22 94h16v8h-16zM54 94h72v8h-72zM38 102h8v8h-8zM54 102h72v8h-72zM14 110h16v8h-16zM38 110h8v8h-8zM54 110h72v8h-72zM14 118h112v8h-112zM14 126h112v8h-112z"/><path fill="#ff7a00" d="M38 6h8v8h-8zM110 6h16v8h-16zM38 14h8v8h-8zM102 14h24v8h-24zM38 22h16v8h-16zM86 22h40v8h-40zM30 30h24v8h-24zM78 30h48v8h-48zM14 38h24v8h-24zM70 38h56v8h-56zM14 46h24v8h-24zM46 46h80v8h-80zM30 54h8v8h-8zM46 54h80v8h-80zM38 62h16v8h-16zM86 62h40v8h-40zM30 70h8v8h-8zM46 70h24v8h-24zM86 70h24v8h-24zM30 78h8v8h-8zM14 86h8v8h-8zM14 94h8v8h-8zM38 94h16v8h-16zM14 102h24v8h-24zM46 102h8v8h-8zM30 110h8v8h-8zM46 110h8v8h-8z"/><path fill="#559600" d="M54 30h24v8h-24z"/></g>
<mask id="m5" maskUnits="userSpaceOnUse" x="0" y="0" width="140" height="140"><g filter="url(#dz5)" fill="#fff"><path fill-opacity="0.37" d="M54 14h8v8h-8zM30 22h16v8h-16zM14 30h32v8h-32zM54 30h8v8h-8zM30 38h32v8h-32zM30 46h16v8h-16zM14 54h16v8h-16zM38 54h8v8h-8zM86 54h8v8h-8zM14 62h24v8h-24zM54 62h8v8h-8zM78 62h16v8h-16zM54 78h8v8h-8zM22 86h8v8h-8zM62 86h8v8h-8zM78 86h24v8h-24zM22 94h8v8h-8zM62 94h16v8h-16zM86 94h8v8h-8zM14 102h8v8h-8zM62 102h8v8h-8zM14 110h8v8h-8zM54 110h8v8h-8zM22 118h8v8h-8zM54 118h8v8h-8zM22 126h16v8h-16zM46 126h16v8h-16z"/><path fill-opacity="0.65" d="M14 38h16v8h-16zM14 46h16v8h-16zM46 46h16v8h-16zM70 46h8v8h-8zM30 54h8v8h-8zM46 54h16v8h-16zM38 62h16v8h-16zM14 70h48v8h-48zM22 78h32v8h-32zM14 86h8v8h-8zM30 86h32v8h-32zM30 94h32v8h-32zM78 94h8v8h-8zM22 102h40v8h-40zM22 110h32v8h-32zM30 118h24v8h-24zM38 126h8v8h-8z"/></g></mask>
<g id="c5"><path fill="#ffff00" d="M14 6h24v8h-24zM46 6h64v8h-64zM14 14h24v8h-24zM46 14h56v8h-56zM14 22h24v8h-24zM54 22h32v8h-32zM14 30h16v8h-16zM38 38h32v8h-32zM38 46h8v8h-8zM14 54h16v8h-16zM38 54h8v8h-8zM14 62h24v8h-24zM54 62h32v8h-32zM14 70h16v8h-16zM38 70h8v8h-8zM70 70h16v8h-16zM110 70h16v8h-16zM14 78h16v8h-16zM38 78h88v8h-88zM22 86h104v8h-104zM22 94h16v8h-16zM54 94h72v8h-72zM38 102h8v8h-8zM54 102h72v8h-72zM14 110h16v8h-16zM38 110h8v8h-8zM54 110h72v8h-72zM14 118h112v8h-112zM14 126h112v8h-112z"/><path fill="#ffb400" d="M38 6h8v8h-8zM110 6h16v8h-16zM38 14h8v8h-8zM102 14h24v8h-24zM38 22h16v8h-16zM86 22h40v8h-40zM30 30h24v8h-24zM78 30h48v8h-48zM14 38h24v8h-24zM70 38h56v8h-56zM14 46h24v8h-24zM46 46h80v8h-80zM30 54h8v8h-8zM46 54h80v8h-80zM38 62h16v8h-16zM86 62h40v8h-40zM30 70h8v8h-8zM46 70h24v8h-24zM86 70h24v8h-24zM30 78h8v8h-8zM14 86h8v8h-8zM14 94h8v8h-8zM38 94h16v8h-16zM14 102h24v8h-24zM46 102h8v8h-8zM30 110h8v8h-8zM46 110h8v8h-8z"/><path fill="#559600" d="M54 30h24v8h-24z"/></g>
<filter id="dz6" filterUnits="userSpaceOnUse" x="0" y="0" width="140" height="140" color-interpolation-filters="sRGB">
<feGaussianBlur in="SourceGraphic" stdDeviation="1.6" result="b"/>
<feTurbulence type="fractalNoise" baseFrequency="0.3" numOctaves="2" seed="45" result="n"/>
<feColorMatrix in="n" type="matrix" values="0 0 0 0 0 0 0 0 0 0 0 0 0 0 0 1 0 0 0 0" result="na"/>
<feComposite in="b" in2="na" operator="arithmetic" k2="1" k3="-2.4" k4="1.2" result="d"/>
<feComponentTransfer in="d" result="t"><feFuncR type="linear" slope="0" intercept="1"/><feFuncG type="linear" slope="0" intercept="1"/><feFuncB type="linear" slope="0" intercept="1"/><feFuncA type="discrete" tableValues="0 1"/></feComponentTransfer>
<feComponentTransfer in="b" result="bm"><feFuncA type="discrete" tableValues="0 1 1 1 1 1 1 1 1 1 1 1 1 1 1"/></feComponentTransfer>
<feComposite in="t" in2="bm" operator="in"/>
</filter>
<g id="cl6"><path fill="#ffff00" d="M14 6h112v8h-112zM14 14h112v8h-112zM14 22h112v8h-112zM14 30h40v8h-40zM78 30h48v8h-48zM14 38h112v8h-112zM14 46h40v8h-40zM70 46h56v8h-56zM14 54h40v8h-40zM70 54h56v8h-56zM14 62h112v8h-112zM14 70h16v8h-16zM38 70h16v8h-16zM78 70h48v8h-48zM14 78h16v8h-16zM38 78h88v8h-88zM22 86h104v8h-104zM22 94h8v8h-8zM38 94h8v8h-8zM54 94h72v8h-72zM14 102h16v8h-16zM38 102h88v8h-88zM14 110h112v8h-112zM14 118h112v8h-112zM14 126h112v8h-112z"/><path fill="#a8c800" d="M54 30h24v8h-24z"/><path fill="#ffb400" d="M54 46h16v8h-16zM54 54h16v8h-16zM30 70h8v8h-8zM54 70h24v8h-24zM30 78h8v8h-8zM14 86h8v8h-8zM14 94h8v8h-8zM30 94h8v8h-8zM46 94h8v8h-8zM30 102h8v8h-8z"/></g><g id="cd6"><path fill="#ffb400" d="M14 6h104v8h-104zM14 14h88v8h-88zM14 22h72v8h-72zM14 30h16v8h-16zM38 30h16v8h-16zM30 38h40v8h-40zM14 46h16v8h-16zM38 46h16v8h-16zM14 54h16v8h-16zM38 54h8v8h-8zM14 62h16v8h-16zM38 62h8v8h-8zM14 70h16v8h-16zM78 70h8v8h-8zM14 78h8v8h-8zM38 78h48v8h-48zM30 86h56v8h-56zM22 94h8v8h-8zM62 94h16v8h-16zM14 102h16v8h-16zM46 102h8v8h-8zM62 102h16v8h-16zM14 110h8v8h-8zM30 110h8v8h-8zM46 110h32v8h-32zM14 118h72v8h-72zM14 126h72v8h-72z"/><path fill="#ff7a00" d="M118 6h8v8h-8zM102 14h24v8h-24zM86 22h40v8h-40zM30 30h8v8h-8zM78 30h48v8h-48zM14 38h16v8h-16zM70 38h56v8h-56zM30 46h8v8h-8zM70 46h48v8h-48zM30 54h8v8h-8zM46 54h8v8h-8zM70 54h40v8h-40zM30 62h8v8h-8zM46 62h48v8h-48zM38 70h16v8h-16zM22 78h8v8h-8zM22 86h8v8h-8zM38 94h8v8h-8zM54 94h8v8h-8zM38 102h8v8h-8zM54 102h8v8h-8zM22 110h8v8h-8zM38 110h8v8h-8z"/><path fill="#559600" d="M54 30h24v8h-24z"/><path fill="#ff2a00" d="M54 46h16v8h-16zM54 54h16v8h-16zM30 70h8v8h-8zM54 70h24v8h-24zM30 78h8v8h-8zM14 86h8v8h-8zM14 94h8v8h-8zM30 94h8v8h-8zM46 94h8v8h-8zM30 102h8v8h-8z"/><path fill="#a8c800" d="M118 46h8v8h-8zM110 54h16v8h-16zM94 62h32v8h-32zM86 70h40v8h-40zM86 78h40v8h-40zM86 86h40v8h-40zM78 94h48v8h-48zM78 102h48v8h-48zM78 110h48v8h-48zM86 118h40v8h-40zM86 126h40v8h-40z"/></g>
<mask id="m6" maskUnits="userSpaceOnUse" x="0" y="0" width="140" height="140"><g filter="url(#dz6)" fill="#fff"><path fill-opacity="0.37" d="M54 14h8v8h-8zM30 22h16v8h-16zM14 30h48v8h-48zM30 38h16v8h-16zM54 38h8v8h-8zM14 46h16v8h-16zM46 46h8v8h-8zM14 54h16v8h-16zM38 54h8v8h-8zM14 62h16v8h-16zM14 70h16v8h-16zM54 78h8v8h-8zM54 86h8v8h-8zM78 86h24v8h-24zM22 94h8v8h-8zM62 94h32v8h-32zM14 102h8v8h-8zM62 102h8v8h-8zM14 110h32v8h-32zM22 118h16v8h-16zM54 118h8v8h-8zM22 126h16v8h-16zM46 126h16v8h-16z"/><path fill-opacity="0.65" d="M14 38h16v8h-16zM30 46h8v8h-8zM54 46h8v8h-8zM70 46h8v8h-8zM30 54h8v8h-8zM46 54h16v8h-16zM30 62h32v8h-32zM30 70h32v8h-32zM22 78h32v8h-32zM14 86h40v8h-40zM30 94h32v8h-32zM22 102h40v8h-40zM46 110h16v8h-16zM38 118h16v8h-16zM38 126h8v8h-8z"/></g></mask>
<g id="c6"><path fill="#ffff00" d="M14 6h104v8h-104zM14 14h88v8h-88zM14 22h72v8h-72zM14 30h16v8h-16zM38 30h16v8h-16zM30 38h40v8h-40zM14 46h16v8h-16zM38 46h16v8h-16zM14 54h16v8h-16zM38 54h8v8h-8zM14 62h16v8h-16zM38 62h8v8h-8zM14 70h16v8h-16zM78 70h8v8h-8zM14 78h8v8h-8zM38 78h48v8h-48zM30 86h56v8h-56zM22 94h8v8h-8zM62 94h16v8h-16zM14 102h16v8h-16zM46 102h8v8h-8zM62 102h16v8h-16zM14 110h8v8h-8zM30 110h8v8h-8zM46 110h32v8h-32zM14 118h72v8h-72zM14 126h72v8h-72z"/><path fill="#ffb400" d="M118 6h8v8h-8zM102 14h24v8h-24zM86 22h40v8h-40zM30 30h8v8h-8zM78 30h48v8h-48zM14 38h16v8h-16zM70 38h56v8h-56zM30 46h8v8h-8zM70 46h48v8h-48zM30 54h8v8h-8zM46 54h8v8h-8zM70 54h40v8h-40zM30 62h8v8h-8zM46 62h48v8h-48zM38 70h16v8h-16zM22 78h8v8h-8zM22 86h8v8h-8zM38 94h8v8h-8zM54 94h8v8h-8zM38 102h8v8h-8zM54 102h8v8h-8zM22 110h8v8h-8zM38 110h8v8h-8z"/><path fill="#559600" d="M54 30h24v8h-24z"/><path fill="#ff7a00" d="M54 46h16v8h-16zM54 54h16v8h-16zM30 70h8v8h-8zM54 70h24v8h-24zM30 78h8v8h-8zM14 86h8v8h-8zM14 94h8v8h-8zM30 94h8v8h-8zM46 94h8v8h-8zM30 102h8v8h-8z"/><path fill="#a8c800" d="M118 46h8v8h-8zM110 54h16v8h-16zM94 62h32v8h-32zM86 70h40v8h-40zM86 78h40v8h-40zM86 86h40v8h-40zM78 94h48v8h-48zM78 102h48v8h-48zM78 110h48v8h-48zM86 118h40v8h-40zM86 126h40v8h-40z"/></g>
<filter id="dz7" filterUnits="userSpaceOnUse" x="0" y="0" width="140" height="140" color-interpolation-filters="sRGB">
<feGaussianBlur in="SourceGraphic" stdDeviation="1.6" result="b"/>
<feTurbulence type="fractalNoise" baseFrequency="0.3" numOctaves="2" seed="52" result="n"/>
<feColorMatrix in="n" type="matrix" values="0 0 0 0 0 0 0 0 0 0 0 0 0 0 0 1 0 0 0 0" result="na"/>
<feComposite in="b" in2="na" operator="arithmetic" k2="1" k3="-2.4" k4="1.2" result="d"/>
<feComponentTransfer in="d" result="t"><feFuncR type="linear" slope="0" intercept="1"/><feFuncG type="linear" slope="0" intercept="1"/><feFuncB type="linear" slope="0" intercept="1"/><feFuncA type="discrete" tableValues="0 1"/></feComponentTransfer>
<feComponentTransfer in="b" result="bm"><feFuncA type="discrete" tableValues="0 1 1 1 1 1 1 1 1 1 1 1 1 1 1"/></feComponentTransfer>
<feComposite in="t" in2="bm" operator="in"/>
</filter>
<g id="cl7"><path fill="#ffff00" d="M14 6h112v8h-112zM14 14h112v8h-112zM14 22h112v8h-112zM14 30h56v8h-56zM78 30h48v8h-48zM30 38h40v8h-40zM78 38h48v8h-48zM14 46h40v8h-40zM78 46h48v8h-48zM14 54h40v8h-40zM78 54h48v8h-48zM14 62h56v8h-56zM78 62h48v8h-48zM14 70h112v8h-112zM14 78h40v8h-40zM70 78h56v8h-56zM22 86h104v8h-104zM22 94h104v8h-104zM14 102h8v8h-8zM38 102h88v8h-88zM14 110h112v8h-112zM14 118h112v8h-112zM14 126h112v8h-112z"/><path fill="#ffb400" d="M70 30h8v8h-8zM14 38h16v8h-16zM70 38h8v8h-8zM54 46h24v8h-24zM54 54h24v8h-24zM70 62h8v8h-8zM54 78h16v8h-16zM14 86h8v8h-8zM14 94h8v8h-8zM22 102h16v8h-16z"/></g><g id="cd7"><path fill="#ffb400" d="M14 6h24v8h-24zM46 6h56v8h-56zM14 14h24v8h-24zM46 14h48v8h-48zM14 22h24v8h-24zM54 22h24v8h-24zM118 22h8v8h-8zM14 30h16v8h-16zM38 30h32v8h-32zM110 30h16v8h-16zM30 38h40v8h-40zM102 38h24v8h-24zM38 46h8v8h-8zM94 46h32v8h-32zM14 54h16v8h-16zM86 54h40v8h-40zM14 62h16v8h-16zM54 62h16v8h-16zM78 62h48v8h-48zM46 70h8v8h-8zM78 70h48v8h-48zM30 78h24v8h-24zM70 78h56v8h-56zM30 86h96v8h-96zM22 94h8v8h-8zM62 94h64v8h-64zM62 102h64v8h-64zM14 110h8v8h-8zM46 110h80v8h-80zM14 118h112v8h-112zM14 126h112v8h-112z"/><path fill="#ff7a00" d="M38 6h8v8h-8zM102 6h24v8h-24zM38 14h8v8h-8zM94 14h32v8h-32zM38 22h16v8h-16zM78 22h40v8h-40zM30 30h8v8h-8zM78 30h32v8h-32zM78 38h24v8h-24zM14 46h24v8h-24zM46 46h8v8h-8zM78 46h16v8h-16zM30 54h24v8h-24zM78 54h8v8h-8zM30 62h24v8h-24zM14 70h32v8h-32zM54 70h24v8h-24zM14 78h16v8h-16zM22 86h8v8h-8zM30 94h32v8h-32zM14 102h8v8h-8zM38 102h24v8h-24zM22 110h24v8h-24z"/><path fill="#ff2a00" d="M70 30h8v8h-8zM14 38h16v8h-16zM70 38h8v8h-8zM54 46h24v8h-24zM54 54h24v8h-24zM70 62h8v8h-8zM54 78h16v8h-16zM14 86h8v8h-8zM14 94h8v8h-8zM22 102h16v8h-16z"/></g>
<mask id="m7" maskUnits="userSpaceOnUse" x="0" y="0" width="140" height="140"><g filter="url(#dz7)" fill="#fff"><path fill-opacity="0.37" d="M54 14h8v8h-8zM30 22h16v8h-16zM14 30h32v8h-32zM30 38h32v8h-32zM78 46h8v8h-8zM14 54h16v8h-16zM86 54h8v8h-8zM14 62h16v8h-16zM54 62h8v8h-8zM86 62h8v8h-8zM38 70h8v8h-8zM54 86h8v8h-8zM78 86h24v8h-24zM22 94h8v8h-8zM62 94h32v8h-32zM38 102h8v8h-8zM62 102h8v8h-8zM14 110h8v8h-8zM30 110h32v8h-32zM22 118h8v8h-8zM46 118h16v8h-16zM22 126h16v8h-16zM46 126h16v8h-16z"/><path fill-opacity="0.65" d="M14 38h16v8h-16zM14 46h24v8h-24zM46 46h16v8h-16zM70 46h8v8h-8zM30 54h8v8h-8zM46 54h16v8h-16zM30 62h24v8h-24zM14 70h24v8h-24zM46 70h16v8h-16zM22 78h40v8h-40zM14 86h40v8h-40zM30 94h32v8h-32zM14 102h24v8h-24zM70 102h8v8h-8zM22 110h8v8h-8zM30 118h16v8h-16zM38 126h8v8h-8z"/></g></mask>
<g id="c7"><path fill="#ffff00" d="M14 6h24v8h-24zM46 6h56v8h-56zM14 14h24v8h-24zM46 14h48v8h-48zM14 22h24v8h-24zM54 22h24v8h-24zM118 22h8v8h-8zM14 30h16v8h-16zM38 30h32v8h-32zM110 30h16v8h-16zM30 38h40v8h-40zM102 38h24v8h-24zM38 46h8v8h-8zM94 46h32v8h-32zM14 54h16v8h-16zM86 54h40v8h-40zM14 62h16v8h-16zM54 62h16v8h-16zM78 62h48v8h-48zM46 70h8v8h-8zM78 70h48v8h-48zM30 78h24v8h-24zM70 78h56v8h-56zM30 86h96v8h-96zM22 94h8v8h-8zM62 94h64v8h-64zM62 102h64v8h-64zM14 110h8v8h-8zM46 110h80v8h-80zM14 118h112v8h-112zM14 126h112v8h-112z"/><path fill="#ffb400" d="M38 6h8v8h-8zM102 6h24v8h-24zM38 14h8v8h-8zM94 14h32v8h-32zM38 22h16v8h-16zM78 22h40v8h-40zM30 30h8v8h-8zM78 30h32v8h-32zM78 38h24v8h-24zM14 46h24v8h-24zM46 46h8v8h-8zM78 46h16v8h-16zM30 54h24v8h-24zM78 54h8v8h-8zM30 62h24v8h-24zM14 70h32v8h-32zM54 70h24v8h-24zM14 78h16v8h-16zM22 86h8v8h-8zM30 94h32v8h-32zM14 102h8v8h-8zM38 102h24v8h-24zM22 110h24v8h-24z"/><path fill="#ff7a00" d="M70 30h8v8h-8zM14 38h16v8h-16zM70 38h8v8h-8zM54 46h24v8h-24zM54 54h24v8h-24zM70 62h8v8h-8zM54 78h16v8h-16zM14 86h8v8h-8zM14 94h8v8h-8zM22 102h16v8h-16z"/></g>
<filter id="dz8" filterUnits="userSpaceOnUse" x="0" y="0" width="140" height="140" color-interpolation-filters="sRGB">
<feGaussianBlur in="SourceGraphic" stdDeviation="1.6" result="b"/>
<feTurbulence type="fractalNoise" baseFrequency="0.3" numOctaves="2" seed="59" result="n"/>
<feColorMatrix in="n" type="matrix" values="0 0 0 0 0 0 0 0 0 0 0 0 0 0 0 1 0 0 0 0" result="na"/>
<feComposite in="b" in2="na" operator="arithmetic" k2="1" k3="-2.4" k4="1.2" result="d"/>
<feComponentTransfer in="d" result="t"><feFuncR type="linear" slope="0" intercept="1"/><feFuncG type="linear" slope="0" intercept="1"/><feFuncB type="linear" slope="0" intercept="1"/><feFuncA type="discrete" tableValues="0 1"/></feComponentTransfer>
<feComponentTransfer in="b" result="bm"><feFuncA type="discrete" tableValues="0 1 1 1 1 1 1 1 1 1 1 1 1 1 1"/></feComponentTransfer>
<feComposite in="t" in2="bm" operator="in"/>
</filter>
<g id="cl8"><path fill="#ffff00" d="M14 6h112v8h-112zM14 14h112v8h-112zM14 22h112v8h-112zM14 30h112v8h-112zM30 38h96v8h-96zM14 46h40v8h-40zM62 46h64v8h-64zM14 54h40v8h-40zM62 54h64v8h-64zM14 62h112v8h-112zM14 70h16v8h-16zM38 70h88v8h-88zM14 78h8v8h-8zM30 78h96v8h-96zM22 86h104v8h-104zM22 94h8v8h-8zM54 94h72v8h-72zM14 102h8v8h-8zM46 102h80v8h-80zM14 110h24v8h-24zM46 110h80v8h-80zM14 118h112v8h-112zM14 126h112v8h-112z"/><path fill="#ffb400" d="M14 38h16v8h-16zM54 54h8v8h-8zM30 70h8v8h-8zM22 78h8v8h-8zM14 86h8v8h-8zM14 94h8v8h-8zM30 94h24v8h-24zM22 102h24v8h-24zM38 110h8v8h-8z"/><path fill="#ff7a00" d="M54 46h8v8h-8z"/></g><g id="cd8"><path fill="#ffb400" d="M14 6h96v8h-96zM14 14h88v8h-88zM14 22h80v8h-80zM14 30h16v8h-16zM54 30h32v8h-32zM38 38h40v8h-40zM30 46h24v8h-24zM62 46h8v8h-8zM14 54h16v8h-16zM38 54h16v8h-16zM62 54h8v8h-8zM14 62h24v8h-24zM54 62h16v8h-16zM38 70h16v8h-16zM110 70h16v8h-16zM30 78h16v8h-16zM54 78h72v8h-72zM30 86h96v8h-96zM22 94h8v8h-8zM70 94h56v8h-56zM14 102h8v8h-8zM54 102h72v8h-72zM14 110h8v8h-8zM46 110h80v8h-80zM14 118h112v8h-112zM14 126h112v8h-112z"/><path fill="#ff7a00" d="M110 6h16v8h-16zM102 14h24v8h-24zM94 22h32v8h-32zM30 30h24v8h-24zM86 30h40v8h-40zM30 38h8v8h-8zM78 38h48v8h-48zM14 46h16v8h-16zM70 46h56v8h-56zM30 54h8v8h-8zM70 54h56v8h-56zM38 62h16v8h-16zM70 62h56v8h-56zM14 70h16v8h-16zM54 70h56v8h-56zM14 78h8v8h-8zM46 78h8v8h-8zM22 86h8v8h-8zM54 94h16v8h-16zM46 102h8v8h-8zM22 110h16v8h-16z"/><path fill="#ff2a00" d="M14 38h16v8h-16zM54 46h8v8h-8zM54 54h8v8h-8zM30 70h8v8h-8zM22 78h8v8h-8zM14 86h8v8h-8zM14 94h8v8h-8zM30 94h24v8h-24zM22 102h24v8h-24zM38 110h8v8h-8z"/></g>
<mask id="m8" maskUnits="userSpaceOnUse" x="0" y="0" width="140" height="140"><g filter="url(#dz8)" fill="#fff"><path fill-opacity="0.37" d="M54 14h8v8h-8zM30 22h16v8h-16zM14 30h16v8h-16zM38 30h8v8h-8zM38 38h32v8h-32zM30 46h8v8h-8zM46 46h8v8h-8zM62 46h8v8h-8zM14 54h16v8h-16zM38 54h16v8h-16zM86 54h8v8h-8zM14 62h24v8h-24zM54 62h8v8h-8zM86 62h8v8h-8zM54 78h8v8h-8zM54 86h8v8h-8zM78 86h8v8h-8zM94 86h8v8h-8zM22 94h8v8h-8zM70 94h24v8h-24zM14 102h8v8h-8zM46 102h24v8h-24zM14 110h16v8h-16zM46 110h16v8h-16zM22 118h8v8h-8zM54 118h8v8h-8zM22 126h16v8h-16zM46 126h16v8h-16z"/><path fill-opacity="0.65" d="M30 30h8v8h-8zM14 38h24v8h-24zM14 46h16v8h-16zM54 46h8v8h-8zM70 46h8v8h-8zM30 54h8v8h-8zM54 54h8v8h-8zM38 62h16v8h-16zM14 70h48v8h-48zM22 78h32v8h-32zM14 86h40v8h-40zM86 86h8v8h-8zM30 94h40v8h-40zM22 102h24v8h-24zM30 110h16v8h-16zM30 118h24v8h-24zM38 126h8v8h-8z"/></g></mask>
<g id="c8"><path fill="#ffff00" d="M14 6h96v8h-96zM14 14h88v8h-88zM14 22h80v8h-80zM14 30h16v8h-16zM54 30h32v8h-32zM38 38h40v8h-40zM30 46h24v8h-24zM62 46h8v8h-8zM14 54h16v8h-16zM38 54h16v8h-16zM62 54h8v8h-8zM14 62h24v8h-24zM54 62h16v8h-16zM38 70h16v8h-16zM110 70h16v8h-16zM30 78h16v8h-16zM54 78h72v8h-72zM30 86h96v8h-96zM22 94h8v8h-8zM70 94h56v8h-56zM14 102h8v8h-8zM54 102h72v8h-72zM14 110h8v8h-8zM46 110h80v8h-80zM14 118h112v8h-112zM14 126h112v8h-112z"/><path fill="#ffb400" d="M110 6h16v8h-16zM102 14h24v8h-24zM94 22h32v8h-32zM30 30h24v8h-24zM86 30h40v8h-40zM30 38h8v8h-8zM78 38h48v8h-48zM14 46h16v8h-16zM70 46h56v8h-56zM30 54h8v8h-8zM70 54h56v8h-56zM38 62h16v8h-16zM70 62h56v8h-56zM14 70h16v8h-16zM54 70h56v8h-56zM14 78h8v8h-8zM46 78h8v8h-8zM22 86h8v8h-8zM54 94h16v8h-16zM46 102h8v8h-8zM22 110h16v8h-16z"/><path fill="#ff7a00" d="M14 38h16v8h-16zM54 54h8v8h-8zM30 70h8v8h-8zM22 78h8v8h-8zM14 86h8v8h-8zM14 94h8v8h-8zM30 94h24v8h-24zM22 102h24v8h-24zM38 110h8v8h-8z"/><path fill="#ff2a00" d="M54 46h8v8h-8z"/></g>
<filter id="dz9" filterUnits="userSpaceOnUse" x="0" y="0" width="140" height="140" color-interpolation-filters="sRGB">
<feGaussianBlur in="SourceGraphic" stdDeviation="1.6" result="b"/>
<feTurbulence type="fractalNoise" baseFrequency="0.3" numOctaves="2" seed="66" result="n"/>
<feColorMatrix in="n" type="matrix" values="0 0 0 0 0 0 0 0 0 0 0 0 0 0 0 1 0 0 0 0" result="na"/>
<feComposite in="b" in2="na" operator="arithmetic" k2="1" k3="-2.4" k4="1.2" result="d"/>
<feComponentTransfer in="d" result="t"><feFuncR type="linear" slope="0" intercept="1"/><feFuncG type="linear" slope="0" intercept="1"/><feFuncB type="linear" slope="0" intercept="1"/><feFuncA type="discrete" tableValues="0 1"/></feComponentTransfer>
<feComponentTransfer in="b" result="bm"><feFuncA type="discrete" tableValues="0 1 1 1 1 1 1 1 1 1 1 1 1 1 1"/></feComponentTransfer>
<feComposite in="t" in2="bm" operator="in"/>
</filter>
<g id="cl9"><path fill="#ffff00" d="M14 6h48v8h-48zM102 6h24v8h-24zM14 14h40v8h-40zM94 14h32v8h-32zM14 22h40v8h-40zM86 22h40v8h-40zM14 30h40v8h-40zM78 30h48v8h-48zM14 38h40v8h-40zM70 38h56v8h-56zM14 46h40v8h-40zM70 46h56v8h-56zM14 54h112v8h-112zM14 62h24v8h-24zM46 62h80v8h-80zM14 70h16v8h-16zM38 70h88v8h-88zM14 78h8v8h-8zM30 78h96v8h-96zM22 86h104v8h-104zM22 94h8v8h-8zM46 94h80v8h-80zM14 102h8v8h-8zM38 102h88v8h-88zM14 110h112v8h-112zM14 118h112v8h-112zM14 126h112v8h-112z"/><path fill="#a8c800" d="M62 6h40v8h-40zM54 14h40v8h-40zM54 22h32v8h-32zM54 30h24v8h-24z"/><path fill="#ffb400" d="M54 38h16v8h-16zM54 46h16v8h-16zM38 62h8v8h-8zM30 70h8v8h-8zM22 78h8v8h-8zM14 86h8v8h-8zM14 94h8v8h-8zM30 94h16v8h-16zM22 102h16v8h-16z"/></g><g id="cd9"><path fill="#ffb400" d="M14 6h48v8h-48zM14 14h40v8h-40zM14 22h40v8h-40zM22 30h32v8h-32zM38 38h16v8h-16zM38 46h8v8h-8zM118 46h8v8h-8zM14 54h16v8h-16zM38 54h8v8h-8zM110 54h16v8h-16zM14 62h24v8h-24zM94 62h32v8h-32zM14 70h16v8h-16zM46 70h24v8h-24zM78 70h48v8h-48zM14 78h8v8h-8zM30 78h32v8h-32zM78 78h48v8h-48zM30 86h32v8h-32zM70 86h56v8h-56zM62 94h64v8h-64zM14 102h8v8h-8zM62 102h64v8h-64zM14 110h16v8h-16zM54 110h72v8h-72zM14 118h112v8h-112zM14 126h112v8h-112z"/><path fill="#559600" d="M62 6h40v8h-40zM54 14h40v8h-40zM54 22h32v8h-32zM54 30h24v8h-24z"/><path fill="#ff7a00" d="M102 6h24v8h-24zM94 14h32v8h-32zM86 22h40v8h-40zM14 30h8v8h-8zM78 30h48v8h-48zM14 38h24v8h-24zM70 38h56v8h-56zM14 46h24v8h-24zM46 46h8v8h-8zM70 46h48v8h-48zM30 54h8v8h-8zM46 54h64v8h-64zM46 62h48v8h-48zM38 70h8v8h-8zM70 70h8v8h-8zM62 78h16v8h-16zM22 86h8v8h-8zM62 86h8v8h-8zM22 94h8v8h-8zM46 94h16v8h-16zM38 102h24v8h-24zM30 110h24v8h-24z"/><path fill="#ff2a00" d="M54 38h16v8h-16zM54 46h16v8h-16zM38 62h8v8h-8zM30 70h8v8h-8zM22 78h8v8h-8zM14 86h8v8h-8zM14 94h8v8h-8zM30 94h16v8h-16zM22 102h16v8h-16z"/></g>
<mask id="m9" maskUnits="userSpaceOnUse" x="0" y="0" width="140" height="140"><g filter="url(#dz9)" fill="#fff"><path fill-opacity="0.37" d="M30 22h16v8h-16zM30 30h16v8h-16zM54 30h8v8h-8zM14 38h16v8h-16zM38 38h16v8h-16zM14 46h16v8h-16zM14 54h16v8h-16zM38 54h8v8h-8zM14 62h24v8h-24zM14 70h16v8h-16zM54 70h8v8h-8zM54 78h16v8h-16zM46 86h16v8h-16zM78 86h24v8h-24zM62 94h32v8h-32zM14 102h8v8h-8zM62 102h8v8h-8zM14 110h8v8h-8zM38 110h8v8h-8zM54 110h8v8h-8zM54 118h8v8h-8zM30 126h8v8h-8zM46 126h16v8h-16z"/><path fill-opacity="0.65" d="M30 38h8v8h-8zM54 38h8v8h-8zM30 46h8v8h-8zM46 46h16v8h-16zM70 46h8v8h-8zM30 54h8v8h-8zM46 54h16v8h-16zM38 62h24v8h-24zM30 70h24v8h-24zM22 78h32v8h-32zM14 86h32v8h-32zM22 94h40v8h-40zM22 102h40v8h-40zM22 110h16v8h-16zM46 110h8v8h-8zM22 118h32v8h-32zM22 126h8v8h-8zM38 126h8v8h-8z"/></g></mask>
<g id="c9"><path fill="#ffff00" d="M14 6h48v8h-48zM14 14h40v8h-40zM14 22h40v8h-40zM22 30h32v8h-32zM38 38h16v8h-16zM38 46h8v8h-8zM118 46h8v8h-8zM14 54h16v8h-16zM38 54h8v8h-8zM110 54h16v8h-16zM14 62h24v8h-24zM94 62h32v8h-32zM14 70h16v8h-16zM46 70h24v8h-24zM78 70h48v8h-48zM14 78h8v8h-8zM30 78h32v8h-32zM78 78h48v8h-48zM30 86h32v8h-32zM70 86h56v8h-56zM62 94h64v8h-64zM14 102h8v8h-8zM62 102h64v8h-64zM14 110h16v8h-16zM54 110h72v8h-72zM14 118h112v8h-112zM14 126h112v8h-112z"/><path fill="#559600" d="M62 6h40v8h-40zM54 14h40v8h-40zM54 22h32v8h-32zM54 30h24v8h-24z"/><path fill="#ffb400" d="M102 6h24v8h-24zM94 14h32v8h-32zM86 22h40v8h-40zM14 30h8v8h-8zM78 30h48v8h-48zM14 38h24v8h-24zM70 38h56v8h-56zM14 46h24v8h-24zM46 46h8v8h-8zM70 46h48v8h-48zM30 54h8v8h-8zM46 54h64v8h-64zM46 62h48v8h-48zM38 70h8v8h-8zM70 70h8v8h-8zM62 78h16v8h-16zM22 86h8v8h-8zM62 86h8v8h-8zM22 94h8v8h-8zM46 94h16v8h-16zM38 102h24v8h-24zM30 110h24v8h-24z"/><path fill="#ff7a00" d="M54 38h16v8h-16zM54 46h16v8h-16zM38 62h8v8h-8zM30 70h8v8h-8zM22 78h8v8h-8zM14 86h8v8h-8zM14 94h8v8h-8zM30 94h16v8h-16zM22 102h16v8h-16z"/></g>
<filter id="dz10" filterUnits="userSpaceOnUse" x="0" y="0" width="140" height="140" color-interpolation-filters="sRGB">
<feGaussianBlur in="SourceGraphic" stdDeviation="1.6" result="b"/>
<feTurbulence type="fractalNoise" baseFrequency="0.3" numOctaves="2" seed="73" result="n"/>
<feColorMatrix in="n" type="matrix" values="0 0 0 0 0 0 0 0 0 0 0 0 0 0 0 1 0 0 0 0" result="na"/>
<feComposite in="b" in2="na" operator="arithmetic" k2="1" k3="-2.4" k4="1.2" result="d"/>
<feComponentTransfer in="d" result="t"><feFuncR type="linear" slope="0" intercept="1"/><feFuncG type="linear" slope="0" intercept="1"/><feFuncB type="linear" slope="0" intercept="1"/><feFuncA type="discrete" tableValues="0 1"/></feComponentTransfer>
<feComponentTransfer in="b" result="bm"><feFuncA type="discrete" tableValues="0 1 1 1 1 1 1 1 1 1 1 1 1 1 1"/></feComponentTransfer>
<feComposite in="t" in2="bm" operator="in"/>
</filter>
<g id="cl10"><path fill="#ffff00" d="M14 6h64v8h-64zM86 6h40v8h-40zM14 14h56v8h-56zM78 14h48v8h-48zM14 22h48v8h-48zM78 22h48v8h-48zM14 30h40v8h-40zM70 30h56v8h-56zM30 38h24v8h-24zM70 38h56v8h-56zM14 46h40v8h-40zM70 46h56v8h-56zM14 54h32v8h-32zM70 54h56v8h-56zM14 62h112v8h-112zM14 70h16v8h-16zM38 70h88v8h-88zM14 78h8v8h-8zM30 78h24v8h-24zM70 78h56v8h-56zM22 86h104v8h-104zM22 94h8v8h-8zM54 94h72v8h-72zM14 102h8v8h-8zM46 102h8v8h-8zM62 102h64v8h-64zM14 110h112v8h-112zM14 118h112v8h-112zM14 126h112v8h-112z"/><path fill="#ffb400" d="M78 6h8v8h-8zM70 14h8v8h-8zM62 22h16v8h-16zM54 30h16v8h-16zM14 38h16v8h-16zM54 38h16v8h-16zM46 54h24v8h-24zM30 70h8v8h-8zM22 78h8v8h-8zM54 78h16v8h-16zM14 86h8v8h-8zM14 94h8v8h-8zM30 94h24v8h-24zM22 102h24v8h-24zM54 102h8v8h-8z"/><path fill="#ff7a00" d="M54 46h16v8h-16z"/></g><g id="cd10"><path fill="#ffb400" d="M14 6h24v8h-24zM14 14h24v8h-24zM14 22h24v8h-24zM118 22h8v8h-8zM14 30h16v8h-16zM110 30h16v8h-16zM38 38h16v8h-16zM102 38h24v8h-24zM38 46h8v8h-8zM94 46h32v8h-32zM14 54h16v8h-16zM86 54h40v8h-40zM14 62h16v8h-16zM38 62h8v8h-8zM78 62h48v8h-48zM46 70h8v8h-8zM78 70h48v8h-48zM38 78h16v8h-16zM70 78h56v8h-56zM30 86h16v8h-16zM54 86h72v8h-72zM62 94h64v8h-64zM70 102h56v8h-56zM14 110h8v8h-8zM54 110h8v8h-8zM78 110h48v8h-48zM14 118h24v8h-24zM46 118h32v8h-32zM86 118h40v8h-40zM14 126h112v8h-112z"/><path fill="#ff7a00" d="M38 6h40v8h-40zM86 6h40v8h-40zM38 14h32v8h-32zM78 14h48v8h-48zM38 22h24v8h-24zM78 22h40v8h-40zM30 30h24v8h-24zM70 30h40v8h-40zM30 38h8v8h-8zM70 38h32v8h-32zM14 46h24v8h-24zM46 46h8v8h-8zM70 46h24v8h-24zM30 54h16v8h-16zM70 54h16v8h-16zM30 62h8v8h-8zM46 62h32v8h-32zM14 70h16v8h-16zM38 70h8v8h-8zM54 70h24v8h-24zM14 78h8v8h-8zM30 78h8v8h-8zM22 86h8v8h-8zM46 86h8v8h-8zM22 94h8v8h-8zM54 94h8v8h-8zM14 102h8v8h-8zM46 102h8v8h-8zM62 102h8v8h-8zM22 110h32v8h-32zM62 110h16v8h-16zM38 118h8v8h-8zM78 118h8v8h-8z"/><path fill="#ff2a00" d="M78 6h8v8h-8zM70 14h8v8h-8zM62 22h16v8h-16zM54 30h16v8h-16zM14 38h16v8h-16zM54 38h16v8h-16zM54 46h16v8h-16zM46 54h24v8h-24zM30 70h8v8h-8zM22 78h8v8h-8zM54 78h16v8h-16zM14 86h8v8h-8zM14 94h8v8h-8zM30 94h24v8h-24zM22 102h24v8h-24zM54 102h8v8h-8z"/></g>
<mask id="m10" maskUnits="userSpaceOnUse" x="0" y="0" width="140" height="140"><g filter="url(#dz10)" fill="#fff"><path fill-opacity="0.37" d="M30 22h16v8h-16zM14 30h16v8h-16zM38 30h8v8h-8zM38 38h16v8h-16zM14 54h16v8h-16zM70 54h8v8h-8zM14 62h16v8h-16zM38 62h8v8h-8zM54 62h8v8h-8zM86 62h8v8h-8zM54 86h16v8h-16zM78 86h24v8h-24zM62 94h32v8h-32zM14 110h8v8h-8zM54 110h8v8h-8zM54 118h8v8h-8zM30 126h8v8h-8zM46 126h16v8h-16z"/><path fill-opacity="0.65" d="M30 30h8v8h-8zM14 38h24v8h-24zM54 38h8v8h-8zM14 46h24v8h-24zM46 46h16v8h-16zM70 46h8v8h-8zM30 54h8v8h-8zM46 54h16v8h-16zM30 62h8v8h-8zM46 62h8v8h-8zM14 70h48v8h-48zM22 78h40v8h-40zM14 86h40v8h-40zM22 94h40v8h-40zM14 102h56v8h-56zM22 110h32v8h-32zM22 118h32v8h-32zM22 126h8v8h-8zM38 126h8v8h-8z"/></g></mask>
<g id="c10"><path fill="#ffff00" d="M14 6h24v8h-24zM14 14h24v8h-24zM14 22h24v8h-24zM118 22h8v8h-8zM14 30h16v8h-16zM110 30h16v8h-16zM38 38h16v8h-16zM102 38h24v8h-24zM38 46h8v8h-8zM94 46h32v8h-32zM14 54h16v8h-16zM86 54h40v8h-40zM14 62h16v8h-16zM38 62h8v8h-8zM78 62h48v8h-48zM46 70h8v8h-8zM78 70h48v8h-48zM38 78h16v8h-16zM70 78h56v8h-56zM30 86h16v8h-16zM54 86h72v8h-72zM62 94h64v8h-64zM70 102h56v8h-56zM14 110h8v8h-8zM54 110h8v8h-8zM78 110h48v8h-48zM14 118h24v8h-24zM46 118h32v8h-32zM86 118h40v8h-40zM14 126h112v8h-112z"/><path fill="#ffb400" d="M38 6h40v8h-40zM86 6h40v8h-40zM38 14h32v8h-32zM78 14h48v8h-48zM38 22h24v8h-24zM78 22h40v8h-40zM30 30h24v8h-24zM70 30h40v8h-40zM30 38h8v8h-8zM70 38h32v8h-32zM14 46h24v8h-24zM46 46h8v8h-8zM70 46h24v8h-24zM30 54h16v8h-16zM70 54h16v8h-16zM30 62h8v8h-8zM46 62h32v8h-32zM14 70h16v8h-16zM38 70h8v8h-8zM54 70h24v8h-24zM14 78h8v8h-8zM30 78h8v8h-8zM22 86h8v8h-8zM46 86h8v8h-8zM22 94h8v8h-8zM54 94h8v8h-8zM14 102h8v8h-8zM46 102h8v8h-8zM62 102h8v8h-8zM22 110h32v8h-32zM62 110h16v8h-16zM38 118h8v8h-8zM78 118h8v8h-8z"/><path fill="#ff7a00" d="M78 6h8v8h-8zM70 14h8v8h-8zM62 22h16v8h-16zM54 30h16v8h-16zM14 38h16v8h-16zM54 38h16v8h-16zM46 54h24v8h-24zM30 70h8v8h-8zM22 78h8v8h-8zM54 78h16v8h-16zM14 86h8v8h-8zM14 94h8v8h-8zM30 94h24v8h-24zM22 102h24v8h-24zM54 102h8v8h-8z"/><path fill="#ff2a00" d="M54 46h16v8h-16z"/></g>
<filter id="dz11" filterUnits="userSpaceOnUse" x="0" y="0" width="140" height="140" color-interpolation-filters="sRGB">
<feGaussianBlur in="SourceGraphic" stdDeviation="1.6" result="b"/>
<feTurbulence type="fractalNoise" baseFrequency="0.3" numOctaves="2" seed="80" result="n"/>
<feColorMatrix in="n" type="matrix" values="0 0 0 0 0 0 0 0 0 0 0 0 0 0 0 1 0 0 0 0" result="na"/>
<feComposite in="b" in2="na" operator="arithmetic" k2="1" k3="-2.4" k4="1.2" result="d"/>
<feComponentTransfer in="d" result="t"><feFuncR type="linear" slope="0" intercept="1"/><feFuncG type="linear" slope="0" intercept="1"/><feFuncB type="linear" slope="0" intercept="1"/><feFuncA type="discrete" tableValues="0 1"/></feComponentTransfer>
<feComponentTransfer in="b" result="bm"><feFuncA type="discrete" tableValues="0 1 1 1 1 1 1 1 1 1 1 1 1 1 1"/></feComponentTransfer>
<feComposite in="t" in2="bm" operator="in"/>
</filter>
<g id="cl11"><path fill="#ffff00" d="M14 6h112v8h-112zM14 14h112v8h-112zM14 22h112v8h-112zM14 30h112v8h-112zM14 38h16v8h-16zM38 38h88v8h-88zM14 46h16v8h-16zM38 46h16v8h-16zM62 46h64v8h-64zM14 54h40v8h-40zM62 54h64v8h-64zM14 62h112v8h-112zM14 70h16v8h-16zM38 70h88v8h-88zM14 78h8v8h-8zM30 78h96v8h-96zM14 86h112v8h-112zM14 94h112v8h-112zM14 102h40v8h-40zM62 102h64v8h-64zM14 110h112v8h-112zM14 118h112v8h-112zM14 126h112v8h-112z"/><path fill="#ffb400" d="M30 38h8v8h-8zM30 46h8v8h-8zM54 46h8v8h-8zM54 54h8v8h-8zM30 70h8v8h-8zM22 78h8v8h-8zM54 102h8v8h-8z"/></g><g id="cd11"><path fill="#ffb400" d="M14 6h48v8h-48zM14 14h40v8h-40zM14 22h40v8h-40zM14 30h16v8h-16zM38 30h16v8h-16zM38 38h16v8h-16zM14 46h16v8h-16zM38 46h8v8h-8zM62 46h8v8h-8zM14 54h16v8h-16zM38 54h8v8h-8zM62 54h8v8h-8zM14 62h16v8h-16zM38 70h8v8h-8zM110 70h16v8h-16zM30 78h96v8h-96zM22 86h104v8h-104zM22 94h8v8h-8zM46 94h80v8h-80zM14 102h8v8h-8zM62 102h64v8h-64zM14 110h16v8h-16zM38 110h8v8h-8zM54 110h72v8h-72zM14 118h112v8h-112zM14 126h112v8h-112z"/><path fill="#a8c800" d="M62 6h40v8h-40zM54 14h40v8h-40zM54 22h32v8h-32zM54 30h24v8h-24z"/><path fill="#ff7a00" d="M102 6h24v8h-24zM94 14h32v8h-32zM86 22h40v8h-40zM30 30h8v8h-8zM78 30h48v8h-48zM14 38h16v8h-16zM54 38h72v8h-72zM46 46h8v8h-8zM70 46h56v8h-56zM30 54h8v8h-8zM46 54h8v8h-8zM70 54h56v8h-56zM30 62h96v8h-96zM14 70h16v8h-16zM46 70h64v8h-64zM14 78h8v8h-8zM14 86h8v8h-8zM14 94h8v8h-8zM30 94h16v8h-16zM22 102h32v8h-32zM30 110h8v8h-8zM46 110h8v8h-8z"/><path fill="#ff2a00" d="M30 38h8v8h-8zM30 46h8v8h-8zM54 46h8v8h-8zM54 54h8v8h-8zM30 70h8v8h-8zM22 78h8v8h-8zM54 102h8v8h-8z"/></g>
<mask id="m11" maskUnits="userSpaceOnUse" x="0" y="0" width="140" height="140"><g filter="url(#dz11)" fill="#fff"><path fill-opacity="0.37" d="M30 22h16v8h-16zM14 30h16v8h-16zM38 30h8v8h-8zM54 30h8v8h-8zM38 38h16v8h-16zM14 46h16v8h-16zM46 46h8v8h-8zM62 46h16v8h-16zM14 54h16v8h-16zM38 54h8v8h-8zM86 54h8v8h-8zM14 62h16v8h-16zM46 62h8v8h-8zM86 62h8v8h-8zM38 70h8v8h-8zM54 78h8v8h-8zM22 86h8v8h-8zM54 86h8v8h-8zM70 86h32v8h-32zM22 94h8v8h-8zM54 94h40v8h-40zM14 102h8v8h-8zM62 102h8v8h-8zM14 110h8v8h-8zM54 110h8v8h-8zM22 118h8v8h-8zM46 118h16v8h-16zM22 126h16v8h-16zM46 126h16v8h-16z"/><path fill-opacity="0.65" d="M30 30h8v8h-8zM14 38h24v8h-24zM54 38h8v8h-8zM30 46h8v8h-8zM54 46h8v8h-8zM30 54h8v8h-8zM46 54h16v8h-16zM30 62h16v8h-16zM54 62h8v8h-8zM14 70h24v8h-24zM46 70h16v8h-16zM22 78h32v8h-32zM14 86h8v8h-8zM30 86h24v8h-24zM30 94h24v8h-24zM22 102h40v8h-40zM22 110h32v8h-32zM30 118h16v8h-16zM38 126h8v8h-8z"/></g></mask>
<g id="c11"><path fill="#ffff00" d="M14 6h48v8h-48zM14 14h40v8h-40zM14 22h40v8h-40zM14 30h16v8h-16zM38 30h16v8h-16zM38 38h16v8h-16zM14 46h16v8h-16zM38 46h8v8h-8zM62 46h8v8h-8zM14 54h16v8h-16zM38 54h8v8h-8zM62 54h8v8h-8zM14 62h16v8h-16zM38 70h8v8h-8zM110 70h16v8h-16zM30 78h96v8h-96zM22 86h104v8h-104zM22 94h8v8h-8zM46 94h80v8h-80zM14 102h8v8h-8zM62 102h64v8h-64zM14 110h16v8h-16zM38 110h8v8h-8zM54 110h72v8h-72zM14 118h112v8h-112zM14 126h112v8h-112z"/><path fill="#a8c800" d="M62 6h40v8h-40zM54 14h40v8h-40zM54 22h32v8h-32zM54 30h24v8h-24z"/><path fill="#ffb400" d="M102 6h24v8h-24zM94 14h32v8h-32zM86 22h40v8h-40zM30 30h8v8h-8zM78 30h48v8h-48zM14 38h16v8h-16zM54 38h72v8h-72zM46 46h8v8h-8zM70 46h56v8h-56zM30 54h8v8h-8zM46 54h8v8h-8zM70 54h56v8h-56zM30 62h96v8h-96zM14 70h16v8h-16zM46 70h64v8h-64zM14 78h8v8h-8zM14 86h8v8h-8zM14 94h8v8h-8zM30 94h16v8h-16zM22 102h32v8h-32zM30 110h8v8h-8zM46 110h8v8h-8z"/><path fill="#ff7a00" d="M30 38h8v8h-8zM30 46h8v8h-8zM54 46h8v8h-8zM54 54h8v8h-8zM30 70h8v8h-8zM22 78h8v8h-8zM54 102h8v8h-8z"/></g>
<filter id="dz12" filterUnits="userSpaceOnUse" x="0" y="0" width="140" height="140" color-interpolation-filters="sRGB">
<feGaussianBlur in="SourceGraphic" stdDeviation="1.6" result="b"/>
<feTurbulence type="fractalNoise" baseFrequency="0.3" numOctaves="2" seed="87" result="n"/>
<feColorMatrix in="n" type="matrix" values="0 0 0 0 0 0 0 0 0 0 0 0 0 0 0 1 0 0 0 0" result="na"/>
<feComposite in="b" in2="na" operator="arithmetic" k2="1" k3="-2.4" k4="1.2" result="d"/>
<feComponentTransfer in="d" result="t"><feFuncR type="linear" slope="0" intercept="1"/><feFuncG type="linear" slope="0" intercept="1"/><feFuncB type="linear" slope="0" intercept="1"/><feFuncA type="discrete" tableValues="0 1"/></feComponentTransfer>
<feComponentTransfer in="b" result="bm"><feFuncA type="discrete" tableValues="0 1 1 1 1 1 1 1 1 1 1 1 1 1 1"/></feComponentTransfer>
<feComposite in="t" in2="bm" operator="in"/>
</filter>
<g id="cl12"><path fill="#ffff00" d="M14 6h80v8h-80zM14 14h72v8h-72zM14 22h72v8h-72zM14 30h40v8h-40zM62 30h24v8h-24zM14 38h16v8h-16zM38 38h16v8h-16zM62 38h24v8h-24zM14 46h16v8h-16zM38 46h16v8h-16zM70 46h16v8h-16zM14 54h16v8h-16zM46 54h8v8h-8zM70 54h16v8h-16zM14 62h112v8h-112zM14 70h16v8h-16zM38 70h8v8h-8zM54 70h72v8h-72zM14 78h8v8h-8zM38 78h88v8h-88zM22 86h104v8h-104zM22 94h104v8h-104zM14 102h8v8h-8zM46 102h80v8h-80zM14 110h8v8h-8zM54 110h72v8h-72zM14 118h112v8h-112zM14 126h112v8h-112z"/><path fill="#ffb400" d="M94 6h32v8h-32zM86 14h40v8h-40zM86 22h40v8h-40zM54 30h8v8h-8zM86 30h40v8h-40zM30 38h8v8h-8zM54 38h8v8h-8zM86 38h40v8h-40zM30 46h8v8h-8zM62 46h8v8h-8zM86 46h40v8h-40zM30 54h16v8h-16zM54 54h16v8h-16zM86 54h40v8h-40zM30 70h8v8h-8zM46 70h8v8h-8zM22 78h16v8h-16zM14 86h8v8h-8zM14 94h8v8h-8zM22 102h24v8h-24zM22 110h32v8h-32z"/><path fill="#ff7a00" d="M54 46h8v8h-8z"/></g><g id="cd12"><path fill="#ffb400" d="M14 6h80v8h-80zM14 14h72v8h-72zM14 22h72v8h-72zM14 30h16v8h-16zM38 30h16v8h-16zM62 30h16v8h-16zM38 38h8v8h-8zM62 38h16v8h-16zM38 46h8v8h-8zM14 54h16v8h-16zM14 62h16v8h-16zM54 70h24v8h-24zM110 70h16v8h-16zM38 78h88v8h-88zM30 86h96v8h-96zM22 94h8v8h-8zM38 94h16v8h-16zM62 94h64v8h-64zM46 102h8v8h-8zM62 102h64v8h-64zM14 110h8v8h-8zM62 110h64v8h-64zM14 118h16v8h-16zM38 118h88v8h-88zM14 126h112v8h-112z"/><path fill="#ff2a00" d="M94 6h32v8h-32zM86 14h40v8h-40zM86 22h40v8h-40zM54 30h8v8h-8zM86 30h40v8h-40zM30 38h8v8h-8zM54 38h8v8h-8zM86 38h40v8h-40zM30 46h8v8h-8zM54 46h16v8h-16zM86 46h40v8h-40zM30 54h16v8h-16zM54 54h16v8h-16zM86 54h40v8h-40zM30 70h8v8h-8zM46 70h8v8h-8zM22 78h16v8h-16zM14 86h8v8h-8zM14 94h8v8h-8zM22 102h24v8h-24zM22 110h32v8h-32z"/><path fill="#ff7a00" d="M30 30h8v8h-8zM78 30h8v8h-8zM14 38h16v8h-16zM46 38h8v8h-8zM78 38h8v8h-8zM14 46h16v8h-16zM46 46h8v8h-8zM70 46h16v8h-16zM46 54h8v8h-8zM70 54h16v8h-16zM30 62h96v8h-96zM14 70h16v8h-16zM38 70h8v8h-8zM78 70h32v8h-32zM14 78h8v8h-8zM22 86h8v8h-8zM30 94h8v8h-8zM54 94h8v8h-8zM14 102h8v8h-8zM54 102h8v8h-8zM54 110h8v8h-8zM30 118h8v8h-8z"/></g>
<mask id="m12" maskUnits="userSpaceOnUse" x="0" y="0" width="140" height="140"><g filter="url(#dz12)" fill="#fff"><path fill-opacity="0.37" d="M30 22h16v8h-16zM14 30h32v8h-32zM38 38h8v8h-8zM62 38h8v8h-8zM78 46h8v8h-8zM14 54h16v8h-16zM14 62h16v8h-16zM38 62h8v8h-8zM86 62h8v8h-8zM54 70h8v8h-8zM54 78h8v8h-8zM54 86h8v8h-8zM78 86h8v8h-8zM94 86h8v8h-8zM22 94h8v8h-8zM46 94h8v8h-8zM62 94h16v8h-16zM62 102h8v8h-8zM54 118h8v8h-8zM30 126h8v8h-8zM46 126h16v8h-16z"/><path fill-opacity="0.65" d="M14 38h24v8h-24zM46 38h16v8h-16zM14 46h24v8h-24zM46 46h32v8h-32zM86 46h8v8h-8zM30 54h8v8h-8zM46 54h16v8h-16zM86 54h8v8h-8zM30 62h8v8h-8zM46 62h16v8h-16zM14 70h40v8h-40zM22 78h32v8h-32zM14 86h40v8h-40zM86 86h8v8h-8zM30 94h16v8h-16zM54 94h8v8h-8zM78 94h16v8h-16zM14 102h32v8h-32zM54 102h8v8h-8zM14 110h48v8h-48zM22 118h32v8h-32zM22 126h8v8h-8zM38 126h8v8h-8z"/></g></mask>
<g id="c12"><path fill="#ffff00" d="M14 6h80v8h-80zM14 14h72v8h-72zM14 22h72v8h-72zM14 30h16v8h-16zM38 30h16v8h-16zM62 30h16v8h-16zM38 38h8v8h-8zM62 38h16v8h-16zM38 46h8v8h-8zM14 54h16v8h-16zM14 62h16v8h-16zM54 70h24v8h-24zM110 70h16v8h-16zM38 78h88v8h-88zM30 86h96v8h-96zM22 94h8v8h-8zM38 94h16v8h-16zM62 94h64v8h-64zM46 102h8v8h-8zM62 102h64v8h-64zM14 110h8v8h-8zM62 110h64v8h-64zM14 118h16v8h-16zM38 118h88v8h-88zM14 126h112v8h-112z"/><path fill="#ff7a00" d="M94 6h32v8h-32zM86 14h40v8h-40zM86 22h40v8h-40zM54 30h8v8h-8zM86 30h40v8h-40zM30 38h8v8h-8zM54 38h8v8h-8zM86 38h40v8h-40zM30 46h8v8h-8zM62 46h8v8h-8zM86 46h40v8h-40zM30 54h16v8h-16zM54 54h16v8h-16zM86 54h40v8h-40zM30 70h8v8h-8zM46 70h8v8h-8zM22 78h16v8h-16zM14 86h8v8h-8zM14 94h8v8h-8zM22 102h24v8h-24zM22 110h32v8h-32z"/><path fill="#ffb400" d="M30 30h8v8h-8zM78 30h8v8h-8zM14 38h16v8h-16zM46 38h8v8h-8zM78 38h8v8h-8zM14 46h16v8h-16zM46 46h8v8h-8zM70 46h16v8h-16zM46 54h8v8h-8zM70 54h16v8h-16zM30 62h96v8h-96zM14 70h16v8h-16zM38 70h8v8h-8zM78 70h32v8h-32zM14 78h8v8h-8zM22 86h8v8h-8zM30 94h8v8h-8zM54 94h8v8h-8zM14 102h8v8h-8zM54 102h8v8h-8zM54 110h8v8h-8zM30 118h8v8h-8z"/><path fill="#ff2a00" d="M54 46h8v8h-8z"/></g>
<filter id="dz13" filterUnits="userSpaceOnUse" x="0" y="0" width="140" height="140" color-interpolation-filters="sRGB">
<feGaussianBlur in="SourceGraphic" stdDeviation="1.6" result="b"/>
<feTurbulence type="fractalNoise" baseFrequency="0.3" numOctaves="2" seed="94" result="n"/>
<feColorMatrix in="n" type="matrix" values="0 0 0 0 0 0 0 0 0 0 0 0 0 0 0 1 0 0 0 0" result="na"/>
<feComposite in="b" in2="na" operator="arithmetic" k2="1" k3="-2.4" k4="1.2" result="d"/>
<feComponentTransfer in="d" result="t"><feFuncR type="linear" slope="0" intercept="1"/><feFuncG type="linear" slope="0" intercept="1"/><feFuncB type="linear" slope="0" intercept="1"/><feFuncA type="discrete" tableValues="0 1"/></feComponentTransfer>
<feComponentTransfer in="b" result="bm"><feFuncA type="discrete" tableValues="0 1 1 1 1 1 1 1 1 1 1 1 1 1 1"/></feComponentTransfer>
<feComposite in="t" in2="bm" operator="in"/>
</filter>
<g id="cl13"><path fill="#ffff00" d="M14 6h88v8h-88zM14 14h80v8h-80zM14 22h72v8h-72zM14 30h40v8h-40zM70 30h16v8h-16zM14 38h32v8h-32zM62 38h24v8h-24zM14 46h16v8h-16zM38 46h8v8h-8zM78 46h8v8h-8zM14 54h32v8h-32zM78 54h8v8h-8zM14 62h56v8h-56zM78 62h48v8h-48zM14 70h16v8h-16zM38 70h88v8h-88zM14 78h8v8h-8zM38 78h88v8h-88zM30 86h96v8h-96zM22 94h104v8h-104zM14 102h8v8h-8zM46 102h80v8h-80zM14 110h16v8h-16zM54 110h72v8h-72zM14 118h112v8h-112zM14 126h112v8h-112z"/><path fill="#ffb400" d="M102 6h24v8h-24zM94 14h32v8h-32zM86 22h40v8h-40zM86 30h40v8h-40zM46 38h8v8h-8zM86 38h40v8h-40zM30 46h8v8h-8zM46 46h8v8h-8zM62 46h16v8h-16zM86 46h40v8h-40zM46 54h8v8h-8zM62 54h16v8h-16zM86 54h40v8h-40zM70 62h8v8h-8zM30 70h8v8h-8zM22 78h16v8h-16zM22 86h8v8h-8zM22 102h24v8h-24zM30 110h24v8h-24z"/><path fill="#a8c800" d="M54 30h16v8h-16z"/><path fill="#ff7a00" d="M54 38h8v8h-8zM54 46h8v8h-8zM54 54h8v8h-8zM14 86h8v8h-8zM14 94h8v8h-8z"/></g><g id="cd13"><path fill="#ffb400" d="M14 6h24v8h-24zM46 6h56v8h-56zM22 14h16v8h-16zM46 14h48v8h-48zM22 22h16v8h-16zM54 22h32v8h-32zM38 30h16v8h-16zM70 30h8v8h-8zM38 38h8v8h-8zM62 38h16v8h-16zM38 46h8v8h-8zM14 54h16v8h-16zM14 62h16v8h-16zM110 70h16v8h-16zM38 78h88v8h-88zM30 86h96v8h-96zM22 94h8v8h-8zM38 94h8v8h-8zM62 94h64v8h-64zM62 102h64v8h-64zM14 110h8v8h-8zM62 110h64v8h-64zM14 118h16v8h-16zM54 118h72v8h-72zM14 126h112v8h-112z"/><path fill="#ff7a00" d="M38 6h8v8h-8zM14 14h8v8h-8zM38 14h8v8h-8zM14 22h8v8h-8zM38 22h16v8h-16zM14 30h24v8h-24zM78 30h8v8h-8zM14 38h24v8h-24zM78 38h8v8h-8zM14 46h16v8h-16zM78 46h8v8h-8zM30 54h16v8h-16zM78 54h8v8h-8zM30 62h40v8h-40zM78 62h48v8h-48zM14 70h16v8h-16zM38 70h72v8h-72zM14 78h8v8h-8zM30 94h8v8h-8zM46 94h16v8h-16zM14 102h8v8h-8zM46 102h16v8h-16zM22 110h8v8h-8zM54 110h8v8h-8zM30 118h24v8h-24z"/><path fill="#ff2a00" d="M102 6h24v8h-24zM94 14h32v8h-32zM86 22h40v8h-40zM86 30h40v8h-40zM46 38h16v8h-16zM86 38h40v8h-40zM30 46h8v8h-8zM46 46h32v8h-32zM86 46h40v8h-40zM46 54h32v8h-32zM86 54h40v8h-40zM70 62h8v8h-8zM30 70h8v8h-8zM22 78h16v8h-16zM14 86h16v8h-16zM14 94h8v8h-8zM22 102h24v8h-24zM30 110h24v8h-24z"/><path fill="#559600" d="M54 30h16v8h-16z"/></g>
<mask id="m13" maskUnits="userSpaceOnUse" x="0" y="0" width="140" height="140"><g filter="url(#dz13)" fill="#fff"><path fill-opacity="0.37" d="M54 14h8v8h-8zM30 22h16v8h-16zM14 30h16v8h-16zM38 30h8v8h-8zM54 30h8v8h-8zM38 38h8v8h-8zM62 38h8v8h-8zM78 46h8v8h-8zM14 54h16v8h-16zM14 62h16v8h-16zM54 62h8v8h-8zM86 62h8v8h-8zM54 78h8v8h-8zM30 86h8v8h-8zM54 86h8v8h-8zM78 86h8v8h-8zM94 86h8v8h-8zM22 94h8v8h-8zM54 94h32v8h-32zM62 102h8v8h-8zM14 110h8v8h-8zM54 110h8v8h-8zM22 118h8v8h-8zM54 118h8v8h-8zM22 126h16v8h-16zM46 126h16v8h-16z"/><path fill-opacity="0.65" d="M30 30h8v8h-8zM14 38h24v8h-24zM46 38h16v8h-16zM14 46h24v8h-24zM46 46h32v8h-32zM86 46h8v8h-8zM30 54h8v8h-8zM46 54h16v8h-16zM86 54h8v8h-8zM30 62h24v8h-24zM14 70h48v8h-48zM22 78h32v8h-32zM14 86h16v8h-16zM38 86h16v8h-16zM86 86h8v8h-8zM30 94h24v8h-24zM86 94h8v8h-8zM14 102h32v8h-32zM54 102h8v8h-8zM22 110h32v8h-32zM30 118h24v8h-24zM38 126h8v8h-8z"/></g></mask>
<g id="c13"><path fill="#ffff00" d="M14 6h24v8h-24zM46 6h56v8h-56zM22 14h16v8h-16zM46 14h48v8h-48zM22 22h16v8h-16zM54 22h32v8h-32zM38 30h16v8h-16zM70 30h8v8h-8zM38 38h8v8h-8zM62 38h16v8h-16zM38 46h8v8h-8zM14 54h16v8h-16zM14 62h16v8h-16zM110 70h16v8h-16zM38 78h88v8h-88zM30 86h96v8h-96zM22 94h8v8h-8zM38 94h8v8h-8zM62 94h64v8h-64zM62 102h64v8h-64zM14 110h8v8h-8zM62 110h64v8h-64zM14 118h16v8h-16zM54 118h72v8h-72zM14 126h112v8h-112z"/><path fill="#ffb400" d="M38 6h8v8h-8zM14 14h8v8h-8zM38 14h8v8h-8zM14 22h8v8h-8zM38 22h16v8h-16zM14 30h24v8h-24zM78 30h8v8h-8zM14 38h24v8h-24zM78 38h8v8h-8zM14 46h16v8h-16zM78 46h8v8h-8zM30 54h16v8h-16zM78 54h8v8h-8zM30 62h40v8h-40zM78 62h48v8h-48zM14 70h16v8h-16zM38 70h72v8h-72zM14 78h8v8h-8zM30 94h8v8h-8zM46 94h16v8h-16zM14 102h8v8h-8zM46 102h16v8h-16zM22 110h8v8h-8zM54 110h8v8h-8zM30 118h24v8h-24z"/><path fill="#ff7a00" d="M102 6h24v8h-24zM94 14h32v8h-32zM86 22h40v8h-40zM86 30h40v8h-40zM46 38h8v8h-8zM86 38h40v8h-40zM30 46h8v8h-8zM46 46h8v8h-8zM62 46h16v8h-16zM86 46h40v8h-40zM46 54h8v8h-8zM62 54h16v8h-16zM86 54h40v8h-40zM70 62h8v8h-8zM30 70h8v8h-8zM22 78h16v8h-16zM22 86h8v8h-8zM22 102h24v8h-24zM30 110h24v8h-24z"/><path fill="#559600" d="M54 30h16v8h-16z"/><path fill="#ff2a00" d="M54 38h8v8h-8zM54 46h8v8h-8zM54 54h8v8h-8zM14 86h8v8h-8zM14 94h8v8h-8z"/></g>
<filter id="dz14" filterUnits="userSpaceOnUse" x="0" y="0" width="140" height="140" color-interpolation-filters="sRGB">
<feGaussianBlur in="SourceGraphic" stdDeviation="1.6" result="b"/>
<feTurbulence type="fractalNoise" baseFrequency="0.3" numOctaves="2" seed="101" result="n"/>
<feColorMatrix in="n" type="matrix" values="0 0 0 0 0 0 0 0 0 0 0 0 0 0 0 1 0 0 0 0" result="na"/>
<feComposite in="b" in2="na" operator="arithmetic" k2="1" k3="-2.4" k4="1.2" result="d"/>
<feComponentTransfer in="d" result="t"><feFuncR type="linear" slope="0" intercept="1"/><feFuncG type="linear" slope="0" intercept="1"/><feFuncB type="linear" slope="0" intercept="1"/><feFuncA type="discrete" tableValues="0 1"/></feComponentTransfer>
<feComponentTransfer in="b" result="bm"><feFuncA type="discrete" tableValues="0 1 1 1 1 1 1 1 1 1 1 1 1 1 1"/></feComponentTransfer>
<feComposite in="t" in2="bm" operator="in"/>
</filter>
<g id="cl14"><path fill="#ffff00" d="M14 6h88v8h-88zM14 14h80v8h-80zM14 22h72v8h-72zM14 30h40v8h-40zM62 30h24v8h-24zM14 38h40v8h-40zM62 38h24v8h-24zM14 46h16v8h-16zM38 46h8v8h-8zM62 46h24v8h-24zM14 54h40v8h-40zM62 54h24v8h-24zM14 62h112v8h-112zM14 70h16v8h-16zM38 70h8v8h-8zM54 70h72v8h-72zM14 78h8v8h-8zM38 78h88v8h-88zM30 86h96v8h-96zM22 94h104v8h-104zM14 102h8v8h-8zM46 102h80v8h-80zM14 110h8v8h-8zM46 110h80v8h-80zM14 118h112v8h-112zM14 126h112v8h-112z"/><path fill="#ffb400" d="M102 6h24v8h-24zM94 14h32v8h-32zM86 22h40v8h-40zM54 30h8v8h-8zM86 30h40v8h-40zM54 38h8v8h-8zM86 38h40v8h-40zM30 46h8v8h-8zM46 46h16v8h-16zM86 46h40v8h-40zM54 54h8v8h-8zM86 54h40v8h-40zM30 70h8v8h-8zM46 70h8v8h-8zM22 78h16v8h-16zM14 86h16v8h-16zM14 94h8v8h-8zM22 102h24v8h-24zM22 110h24v8h-24z"/></g><g id="cd14"><path fill="#ffb400" d="M14 6h88v8h-88zM14 14h80v8h-80zM14 22h72v8h-72zM14 30h16v8h-16zM62 30h16v8h-16zM62 38h16v8h-16zM14 54h16v8h-16zM110 70h16v8h-16zM46 78h16v8h-16zM78 78h48v8h-48zM38 86h24v8h-24zM78 86h48v8h-48zM22 94h8v8h-8zM54 94h72v8h-72zM70 102h56v8h-56zM14 110h8v8h-8zM78 110h48v8h-48zM14 118h16v8h-16zM46 118h32v8h-32zM86 118h40v8h-40zM14 126h112v8h-112z"/><path fill="#ff2a00" d="M102 6h24v8h-24zM94 14h32v8h-32zM86 22h40v8h-40zM54 30h8v8h-8zM86 30h40v8h-40zM54 38h8v8h-8zM86 38h40v8h-40zM30 46h8v8h-8zM46 46h16v8h-16zM86 46h40v8h-40zM54 54h8v8h-8zM86 54h40v8h-40zM30 70h8v8h-8zM46 70h8v8h-8zM22 78h16v8h-16zM14 86h16v8h-16zM14 94h8v8h-8zM22 102h24v8h-24zM22 110h24v8h-24z"/><path fill="#ff7a00" d="M30 30h24v8h-24zM78 30h8v8h-8zM14 38h40v8h-40zM78 38h8v8h-8zM14 46h16v8h-16zM38 46h8v8h-8zM62 46h24v8h-24zM30 54h24v8h-24zM62 54h24v8h-24zM14 62h112v8h-112zM14 70h16v8h-16zM38 70h8v8h-8zM54 70h56v8h-56zM14 78h8v8h-8zM38 78h8v8h-8zM62 78h16v8h-16zM30 86h8v8h-8zM62 86h16v8h-16zM30 94h24v8h-24zM14 102h8v8h-8zM46 102h24v8h-24zM46 110h32v8h-32zM30 118h16v8h-16zM78 118h8v8h-8z"/></g>
<mask id="m14" maskUnits="userSpaceOnUse" x="0" y="0" width="140" height="140"><g filter="url(#dz14)" fill="#fff"><path fill-opacity="0.37" d="M54 14h8v8h-8zM30 22h16v8h-16zM14 30h16v8h-16zM38 30h8v8h-8zM38 38h8v8h-8zM62 38h8v8h-8zM78 46h8v8h-8zM14 54h16v8h-16zM38 54h8v8h-8zM54 62h8v8h-8zM86 62h8v8h-8zM54 70h8v8h-8zM46 78h24v8h-24zM54 86h16v8h-16zM78 86h8v8h-8zM94 86h8v8h-8zM22 94h8v8h-8zM54 94h24v8h-24zM14 110h8v8h-8zM22 118h8v8h-8zM54 118h8v8h-8zM22 126h16v8h-16zM46 126h16v8h-16z"/><path fill-opacity="0.65" d="M30 30h8v8h-8zM14 38h24v8h-24zM46 38h16v8h-16zM14 46h24v8h-24zM46 46h32v8h-32zM86 46h8v8h-8zM30 54h8v8h-8zM46 54h16v8h-16zM86 54h8v8h-8zM14 62h40v8h-40zM14 70h40v8h-40zM22 78h24v8h-24zM14 86h40v8h-40zM86 86h8v8h-8zM30 94h24v8h-24zM78 94h16v8h-16zM14 102h32v8h-32zM54 102h16v8h-16zM22 110h40v8h-40zM30 118h24v8h-24zM38 126h8v8h-8z"/></g></mask>
<g id="c14"><path fill="#ffff00" d="M14 6h88v8h-88zM14 14h80v8h-80zM14 22h72v8h-72zM14 30h16v8h-16zM62 30h16v8h-16zM62 38h16v8h-16zM14 54h16v8h-16zM110 70h16v8h-16zM46 78h16v8h-16zM78 78h48v8h-48zM38 86h24v8h-24zM78 86h48v8h-48zM22 94h8v8h-8zM54 94h72v8h-72zM70 102h56v8h-56zM14 110h8v8h-8zM78 110h48v8h-48zM14 118h16v8h-16zM46 118h32v8h-32zM86 118h40v8h-40zM14 126h112v8h-112z"/><path fill="#ff7a00" d="M102 6h24v8h-24zM94 14h32v8h-32zM86 22h40v8h-40zM54 30h8v8h-8zM86 30h40v8h-40zM54 38h8v8h-8zM86 38h40v8h-40zM30 46h8v8h-8zM46 46h16v8h-16zM86 46h40v8h-40zM54 54h8v8h-8zM86 54h40v8h-40zM30 70h8v8h-8zM46 70h8v8h-8zM22 78h16v8h-16zM14 86h16v8h-16zM14 94h8v8h-8zM22 102h24v8h-24zM22 110h24v8h-24z"/><path fill="#ffb400" d="M30 30h24v8h-24zM78 30h8v8h-8zM14 38h40v8h-40zM78 38h8v8h-8zM14 46h16v8h-16zM38 46h8v8h-8zM62 46h24v8h-24zM30 54h24v8h-24zM62 54h24v8h-24zM14 62h112v8h-112zM14 70h16v8h-16zM38 70h8v8h-8zM54 70h56v8h-56zM14 78h8v8h-8zM38 78h8v8h-8zM62 78h16v8h-16zM30 86h8v8h-8zM62 86h16v8h-16zM30 94h24v8h-24zM14 102h8v8h-8zM46 102h24v8h-24zM46 110h32v8h-32zM30 118h16v8h-16zM78 118h8v8h-8z"/></g>
<filter id="nzL0" filterUnits="userSpaceOnUse" x="0" y="0" width="140" height="140" color-interpolation-filters="sRGB"><feTurbulence type="fractalNoise" baseFrequency="0.45" numOctaves="2" seed="11"/><feColorMatrix type="matrix" values="0 0 0 0 1 0 0 0 0 1 0 0 0 0 1 1 0 0 0 -0.08"/><feComponentTransfer><feFuncA type="discrete" tableValues="0 1"/></feComponentTransfer></filter>
<mask id="mL0" maskUnits="userSpaceOnUse" x="0" y="0" width="140" height="140"><rect width="140" height="140" fill="#fff" filter="url(#nzL0)"/></mask>
<filter id="nzD0" filterUnits="userSpaceOnUse" x="0" y="0" width="140" height="140" color-interpolation-filters="sRGB"><feTurbulence type="fractalNoise" baseFrequency="0.45" numOctaves="2" seed="29"/><feColorMatrix type="matrix" values="0 0 0 0 1 0 0 0 0 1 0 0 0 0 1 1 0 0 0 -0.13"/><feComponentTransfer><feFuncA type="discrete" tableValues="0 1"/></feComponentTransfer></filter>
<mask id="mD0" maskUnits="userSpaceOnUse" x="0" y="0" width="140" height="140"><rect width="140" height="140" fill="#fff" filter="url(#nzD0)"/></mask>
<filter id="nzL1" filterUnits="userSpaceOnUse" x="0" y="0" width="140" height="140" color-interpolation-filters="sRGB"><feTurbulence type="fractalNoise" baseFrequency="0.45" numOctaves="2" seed="16"/><feColorMatrix type="matrix" values="0 0 0 0 1 0 0 0 0 1 0 0 0 0 1 1 0 0 0 -0.08"/><feComponentTransfer><feFuncA type="discrete" tableValues="0 1"/></feComponentTransfer></filter>
<mask id="mL1" maskUnits="userSpaceOnUse" x="0" y="0" width="140" height="140"><rect width="140" height="140" fill="#fff" filter="url(#nzL1)"/></mask>
<filter id="nzD1" filterUnits="userSpaceOnUse" x="0" y="0" width="140" height="140" color-interpolation-filters="sRGB"><feTurbulence type="fractalNoise" baseFrequency="0.45" numOctaves="2" seed="36"/><feColorMatrix type="matrix" values="0 0 0 0 1 0 0 0 0 1 0 0 0 0 1 1 0 0 0 -0.13"/><feComponentTransfer><feFuncA type="discrete" tableValues="0 1"/></feComponentTransfer></filter>
<mask id="mD1" maskUnits="userSpaceOnUse" x="0" y="0" width="140" height="140"><rect width="140" height="140" fill="#fff" filter="url(#nzD1)"/></mask>
<filter id="nzL2" filterUnits="userSpaceOnUse" x="0" y="0" width="140" height="140" color-interpolation-filters="sRGB"><feTurbulence type="fractalNoise" baseFrequency="0.45" numOctaves="2" seed="21"/><feColorMatrix type="matrix" values="0 0 0 0 1 0 0 0 0 1 0 0 0 0 1 1 0 0 0 -0.08"/><feComponentTransfer><feFuncA type="discrete" tableValues="0 1"/></feComponentTransfer></filter>
<mask id="mL2" maskUnits="userSpaceOnUse" x="0" y="0" width="140" height="140"><rect width="140" height="140" fill="#fff" filter="url(#nzL2)"/></mask>
<filter id="nzD2" filterUnits="userSpaceOnUse" x="0" y="0" width="140" height="140" color-interpolation-filters="sRGB"><feTurbulence type="fractalNoise" baseFrequency="0.45" numOctaves="2" seed="43"/><feColorMatrix type="matrix" values="0 0 0 0 1 0 0 0 0 1 0 0 0 0 1 1 0 0 0 -0.13"/><feComponentTransfer><feFuncA type="discrete" tableValues="0 1"/></feComponentTransfer></filter>
<mask id="mD2" maskUnits="userSpaceOnUse" x="0" y="0" width="140" height="140"><rect width="140" height="140" fill="#fff" filter="url(#nzD2)"/></mask>
<filter id="soft" x="0" y="0" width="140" height="140" filterUnits="userSpaceOnUse"><feConvolveMatrix order="3" kernelMatrix="1 2 1 2 4 2 1 2 1" edgeMode="none"/></filter>
</defs>
<g transform="translate(50,9.6)">
<g filter="url(#soft)"><g clip-path="url(#clip)"><g mask="url(#m0)"><use href="#c0" filter="url(#cb)"/><g mask="url(#mL0)"><use href="#cl0" filter="url(#cb)"/></g><g mask="url(#mD0)"><use href="#cd0" filter="url(#cb)"/></g></g></g></g>
<use href="#olj" fill="none" stroke="#686868" stroke-width="1.05"/>
</g>
<rect x="50" y="9.6" width="139.2" height="139.0" fill="none" stroke="#222" stroke-width="1.4"/>
<text x="139.4" y="35.2" class="yr" font-size="21.9" textLength="42.1" lengthAdjust="spacingAndGlyphs">2001</text>
<g transform="translate(218.2,10.2)">
<g filter="url(#soft)"><g clip-path="url(#clip)"><g mask="url(#m1)"><use href="#c1" filter="url(#cb)"/><g mask="url(#mL1)"><use href="#cl1" filter="url(#cb)"/></g><g mask="url(#mD1)"><use href="#cd1" filter="url(#cb)"/></g></g></g></g>
<use href="#olj" fill="none" stroke="#686868" stroke-width="1.05"/>
</g>
<rect x="218.2" y="10.2" width="139.3" height="138.7" fill="none" stroke="#222" stroke-width="1.4"/>
<text x="303.4" y="35.2" class="yr" font-size="21.9" textLength="43.2" lengthAdjust="spacingAndGlyphs">2002</text>
<g transform="translate(386.1,10.6)">
<g filter="url(#soft)"><g clip-path="url(#clip)"><g mask="url(#m2)"><use href="#c2" filter="url(#cb)"/><g mask="url(#mL2)"><use href="#cl2" filter="url(#cb)"/></g><g mask="url(#mD2)"><use href="#cd2" filter="url(#cb)"/></g></g></g></g>
<use href="#olj" fill="none" stroke="#686868" stroke-width="1.05"/>
</g>
<rect x="386.1" y="10.6" width="138.8" height="139.0" fill="none" stroke="#222" stroke-width="1.4"/>
<text x="474.3" y="37.2" class="yr" font-size="21.8" textLength="43.0" lengthAdjust="spacingAndGlyphs">2003</text>
<g transform="translate(49.8,158.8)">
<g filter="url(#soft)"><g clip-path="url(#clip)"><g mask="url(#m3)"><use href="#c3" filter="url(#cb)"/><g mask="url(#mL0)"><use href="#cl3" filter="url(#cb)"/></g><g mask="url(#mD0)"><use href="#cd3" filter="url(#cb)"/></g></g></g></g>
<use href="#olj" fill="none" stroke="#686868" stroke-width="1.05"/>
</g>
<rect x="49.8" y="158.8" width="139.4" height="139.1" fill="none" stroke="#222" stroke-width="1.4"/>
<text x="137.9" y="183.5" class="yr" font-size="21.5" textLength="43.8" lengthAdjust="spacingAndGlyphs">2004</text>
<g transform="translate(217.5,159.5)">
<g filter="url(#soft)"><g clip-path="url(#clip)"><g mask="url(#m4)"><use href="#c4" filter="url(#cb)"/><g mask="url(#mL1)"><use href="#cl4" filter="url(#cb)"/></g><g mask="url(#mD1)"><use href="#cd4" filter="url(#cb)"/></g></g></g></g>
<use href="#olj" fill="none" stroke="#686868" stroke-width="1.05"/>
</g>
<rect x="217.5" y="159.5" width="139.0" height="139.0" fill="none" stroke="#222" stroke-width="1.4"/>
<text x="305.8" y="182.1" class="yr" font-size="20.6" textLength="43.7" lengthAdjust="spacingAndGlyphs">2005</text>
<g transform="translate(384,160.5)">
<g filter="url(#soft)"><g clip-path="url(#clip)"><g mask="url(#m5)"><use href="#c5" filter="url(#cb)"/><g mask="url(#mL2)"><use href="#cl5" filter="url(#cb)"/></g><g mask="url(#mD2)"><use href="#cd5" filter="url(#cb)"/></g></g></g></g>
<use href="#olj" fill="none" stroke="#686868" stroke-width="1.05"/>
</g>
<rect x="384" y="160.5" width="138.5" height="138.5" fill="none" stroke="#222" stroke-width="1.4"/>
<text x="471.3" y="183.8" class="yr" font-size="20.9" textLength="43.2" lengthAdjust="spacingAndGlyphs">2006</text>
<g transform="translate(49.5,312.5)">
<g filter="url(#soft)"><g clip-path="url(#clip)"><g mask="url(#m6)"><use href="#c6" filter="url(#cb)"/><g mask="url(#mL0)"><use href="#cl6" filter="url(#cb)"/></g><g mask="url(#mD0)"><use href="#cd6" filter="url(#cb)"/></g></g></g></g>
<use href="#olj" fill="none" stroke="#686868" stroke-width="1.05"/>
</g>
<rect x="49.5" y="312.5" width="139.7" height="138.9" fill="none" stroke="#222" stroke-width="1.4"/>
<text x="137.2" y="338.0" class="yr" font-size="21.6" textLength="43.7" lengthAdjust="spacingAndGlyphs">2007</text>
<g transform="translate(217.5,313.3)">
<g filter="url(#soft)"><g clip-path="url(#clip)"><g mask="url(#m7)"><use href="#c7" filter="url(#cb)"/><g mask="url(#mL1)"><use href="#cl7" filter="url(#cb)"/></g><g mask="url(#mD1)"><use href="#cd7" filter="url(#cb)"/></g></g></g></g>
<use href="#olj" fill="none" stroke="#686868" stroke-width="1.05"/>
</g>
<rect x="217.5" y="313.3" width="139.0" height="138.7" fill="none" stroke="#222" stroke-width="1.4"/>
<text x="303.5" y="338.0" class="yr" font-size="21.6" textLength="43.8" lengthAdjust="spacingAndGlyphs">2008</text>
<g transform="translate(384,314)">
<g filter="url(#soft)"><g clip-path="url(#clip)"><g mask="url(#m8)"><use href="#c8" filter="url(#cb)"/><g mask="url(#mL2)"><use href="#cl8" filter="url(#cb)"/></g><g mask="url(#mD2)"><use href="#cd8" filter="url(#cb)"/></g></g></g></g>
<use href="#olj" fill="none" stroke="#686868" stroke-width="1.05"/>
</g>
<rect x="384" y="314" width="138.6" height="138.8" fill="none" stroke="#222" stroke-width="1.4"/>
<text x="470.0" y="340.6" class="yr" font-size="21.6" textLength="43.8" lengthAdjust="spacingAndGlyphs">2009</text>
<g transform="translate(49.2,463.6)">
<g filter="url(#soft)"><g clip-path="url(#clip)"><g mask="url(#m9)"><use href="#c9" filter="url(#cb)"/><g mask="url(#mL0)"><use href="#cl9" filter="url(#cb)"/></g><g mask="url(#mD0)"><use href="#cd9" filter="url(#cb)"/></g></g></g></g>
<use href="#olj" fill="none" stroke="#686868" stroke-width="1.05"/>
</g>
<rect x="49.2" y="463.6" width="139.0" height="138.4" fill="none" stroke="#222" stroke-width="1.4"/>
<text x="137.2" y="488.7" class="yr" font-size="21.6" textLength="43.7" lengthAdjust="spacingAndGlyphs">2010</text>
<g transform="translate(216.6,465.3)">
<g filter="url(#soft)"><g clip-path="url(#clip)"><g mask="url(#m10)"><use href="#c10" filter="url(#cb)"/><g mask="url(#mL1)"><use href="#cl10" filter="url(#cb)"/></g><g mask="url(#mD1)"><use href="#cd10" filter="url(#cb)"/></g></g></g></g>
<use href="#olj" fill="none" stroke="#686868" stroke-width="1.05"/>
</g>
<rect x="216.6" y="465.3" width="139.3" height="138.7" fill="none" stroke="#222" stroke-width="1.4"/>
<text x="305.7" y="491.2" class="yr" font-size="21.6" textLength="42.3" lengthAdjust="spacingAndGlyphs">2011</text>
<g transform="translate(384,464.7)">
<g filter="url(#soft)"><g clip-path="url(#clip)"><g mask="url(#m11)"><use href="#c11" filter="url(#cb)"/><g mask="url(#mL2)"><use href="#cl11" filter="url(#cb)"/></g><g mask="url(#mD2)"><use href="#cd11" filter="url(#cb)"/></g></g></g></g>
<use href="#olj" fill="none" stroke="#686868" stroke-width="1.05"/>
</g>
<rect x="384" y="464.7" width="138.3" height="138.7" fill="none" stroke="#222" stroke-width="1.4"/>
<text x="470.8" y="489.7" class="yr" font-size="20.9" textLength="43.7" lengthAdjust="spacingAndGlyphs">2012</text>
<g transform="translate(49.3,613.3)">
<g filter="url(#soft)"><g clip-path="url(#clip)"><g mask="url(#m12)"><use href="#c12" filter="url(#cb)"/><g mask="url(#mL0)"><use href="#cl12" filter="url(#cb)"/></g><g mask="url(#mD0)"><use href="#cd12" filter="url(#cb)"/></g></g></g></g>
<use href="#olj" fill="none" stroke="#686868" stroke-width="1.05"/>
</g>
<rect x="49.3" y="613.3" width="139.0" height="138.9" fill="none" stroke="#222" stroke-width="1.4"/>
<text x="135.8" y="637.8" class="yr" font-size="20.9" textLength="43.7" lengthAdjust="spacingAndGlyphs">2013</text>
<g transform="translate(217.8,614)">
<g filter="url(#soft)"><g clip-path="url(#clip)"><g mask="url(#m13)"><use href="#c13" filter="url(#cb)"/><g mask="url(#mL1)"><use href="#cl13" filter="url(#cb)"/></g><g mask="url(#mD1)"><use href="#cd13" filter="url(#cb)"/></g></g></g></g>
<use href="#olj" fill="none" stroke="#686868" stroke-width="1.05"/>
</g>
<rect x="217.8" y="614" width="139.2" height="138.9" fill="none" stroke="#222" stroke-width="1.4"/>
<text x="308.7" y="640.0" class="yr" font-size="20.9" textLength="43.7" lengthAdjust="spacingAndGlyphs">2014</text>
<g transform="translate(385.2,614.5)">
<g filter="url(#soft)"><g clip-path="url(#clip)"><g mask="url(#m14)"><use href="#c14" filter="url(#cb)"/><g mask="url(#mL2)"><use href="#cl14" filter="url(#cb)"/></g><g mask="url(#mD2)"><use href="#cd14" filter="url(#cb)"/></g></g></g></g>
<use href="#olj" fill="none" stroke="#686868" stroke-width="1.05"/>
</g>
<rect x="385.2" y="614.5" width="140.0" height="138.1" fill="none" stroke="#222" stroke-width="1.4"/>
<text x="474.5" y="639.0" class="yr" font-size="20.4" textLength="42.8" lengthAdjust="spacingAndGlyphs">2015</text>
<path d="M45 27.0H50 M45 57.7H50 M45 87.5H50 M45 117.6H50 M45 148.6H50 M524.9 40.1H529.9 M524.9 70.5H529.9 M524.9 101.1H529.9 M524.9 131.8H529.9 M44.8 176.2H49.8 M44.8 206.9H49.8 M44.8 236.7H49.8 M44.8 266.8H49.8 M44.8 297.9H49.8 M522.5 190.0H527.5 M522.5 220.4H527.5 M522.5 251.0H527.5 M522.5 281.7H527.5 M44.5 329.9H49.5 M44.5 360.6H49.5 M44.5 390.4H49.5 M44.5 420.5H49.5 M44.5 451.4H49.5 M522.6 343.5H527.6 M522.6 373.9H527.6 M522.6 404.5H527.6 M522.6 435.2H527.6 M44.2 481.0H49.2 M44.2 511.7H49.2 M44.2 541.5H49.2 M44.2 571.6H49.2 M44.2 602.0H49.2 M522.3 494.2H527.3 M522.3 524.6H527.3 M522.3 555.2H527.3 M522.3 585.9H527.3 M44.3 630.7H49.3 M44.3 661.4H49.3 M44.3 691.2H49.3 M44.3 721.3H49.3 M44.3 752.2H49.3 M525.2 644.0H530.2 M525.2 674.4H530.2 M525.2 705.0H530.2 M525.2 735.7H530.2 M56.2 752.2V757.2 M81.6 752.2V757.2 M106.7 752.2V757.2 M131.5 752.2V757.2 M156.8 752.2V757.2 M182.1 752.2V757.2 M224.7 752.9V757.9 M250.1 752.9V757.9 M275.2 752.9V757.9 M300.0 752.9V757.9 M325.3 752.9V757.9 M350.6 752.9V757.9 M392.1 752.6V757.6 M417.5 752.6V757.6 M442.6 752.6V757.6 M467.4 752.6V757.6 M492.7 752.6V757.6 M518.0 752.6V757.6" stroke="#222" stroke-width="1.3" fill="none"/>
<text class="ax" transform="translate(41.4,27.0) rotate(-90)" text-anchor="middle">40° N</text>
<text class="ax" transform="translate(41.4,87.5) rotate(-90)" text-anchor="middle">36° N</text>
<text class="ax" transform="translate(41.4,148.6) rotate(-90)" text-anchor="middle">32° N</text>
<text class="ax" transform="translate(541.3,40.1) rotate(-90)" text-anchor="middle">38° N</text>
<text class="ax" transform="translate(541.3,101.1) rotate(-90)" text-anchor="middle">34° N</text>
<text class="ax" transform="translate(41.2,176.2) rotate(-90)" text-anchor="middle">40° N</text>
<text class="ax" transform="translate(41.2,236.7) rotate(-90)" text-anchor="middle">36° N</text>
<text class="ax" transform="translate(41.2,297.9) rotate(-90)" text-anchor="middle">32° N</text>
<text class="ax" transform="translate(538.9,190.0) rotate(-90)" text-anchor="middle">38° N</text>
<text class="ax" transform="translate(538.9,251.0) rotate(-90)" text-anchor="middle">34° N</text>
<text class="ax" transform="translate(40.9,329.9) rotate(-90)" text-anchor="middle">40° N</text>
<text class="ax" transform="translate(40.9,390.4) rotate(-90)" text-anchor="middle">36° N</text>
<text class="ax" transform="translate(40.9,451.4) rotate(-90)" text-anchor="middle">32° N</text>
<text class="ax" transform="translate(539.0,343.5) rotate(-90)" text-anchor="middle">38° N</text>
<text class="ax" transform="translate(539.0,404.5) rotate(-90)" text-anchor="middle">34° N</text>
<text class="ax" transform="translate(40.6,481.0) rotate(-90)" text-anchor="middle">40° N</text>
<text class="ax" transform="translate(40.6,541.5) rotate(-90)" text-anchor="middle">36° N</text>
<text class="ax" transform="translate(40.6,602.0) rotate(-90)" text-anchor="middle">32° N</text>
<text class="ax" transform="translate(538.7,494.2) rotate(-90)" text-anchor="middle">38° N</text>
<text class="ax" transform="translate(538.7,555.2) rotate(-90)" text-anchor="middle">34° N</text>
<text class="ax" transform="translate(40.7,630.7) rotate(-90)" text-anchor="middle">40° N</text>
<text class="ax" transform="translate(40.7,691.2) rotate(-90)" text-anchor="middle">36° N</text>
<text class="ax" transform="translate(40.7,752.2) rotate(-90)" text-anchor="middle">32° N</text>
<text class="ax" transform="translate(541.6,644.0) rotate(-90)" text-anchor="middle">38° N</text>
<text class="ax" transform="translate(541.6,705.0) rotate(-90)" text-anchor="middle">34° N</text>
<text class="axb" x="81.6" y="769.3" text-anchor="middle">114° E</text>
<text class="axb" x="131.5" y="769.3" text-anchor="middle">118° E</text>
<text class="axb" x="182.1" y="769.3" text-anchor="middle">122° E</text>
<text class="axb" x="250.1" y="769.3" text-anchor="middle">114° E</text>
<text class="axb" x="300.0" y="769.3" text-anchor="middle">118° E</text>
<text class="axb" x="350.6" y="769.3" text-anchor="middle">122° E</text>
<text class="axb" x="417.5" y="769.3" text-anchor="middle">114° E</text>
<text class="axb" x="467.4" y="769.3" text-anchor="middle">118° E</text>
<text class="axb" x="518.0" y="769.3" text-anchor="middle">122° E</text>
<text x="16.8" y="15.6" font-family="Liberation Sans,sans-serif" font-weight="bold" font-size="10.4" text-anchor="middle" fill="#222">N</text>
<path d="M16.6 19.3 L9.1 43.6 L16.7 34.9Z" fill="#111"/>
<path d="M16.6 19.3 L23.6 42.9 L16.7 34.9Z" fill="#fff" stroke="#111" stroke-width="0.8" stroke-linejoin="miter"/>
<rect x="197.60" y="774.2" width="38.06" height="13.1" fill="#0b6b0b"/>
<rect x="235.46" y="774.2" width="38.06" height="13.1" fill="#559600"/>
<rect x="273.32" y="774.2" width="38.06" height="13.1" fill="#a8c800"/>
<rect x="311.18" y="774.2" width="38.06" height="13.1" fill="#ffff00"/>
<rect x="349.04" y="774.2" width="38.06" height="13.1" fill="#ffb400"/>
<rect x="386.90" y="774.2" width="38.06" height="13.1" fill="#ff7a00"/>
<rect x="424.76" y="774.2" width="38.06" height="13.1" fill="#ff2a00"/>
<text x="163" y="785" font-family="Liberation Serif,serif" font-weight="bold" font-size="12.8" fill="#222">t/ha</text>
<text class="lg" transform="translate(204.5,803) rotate(18)">&lt;3.0</text>
<text class="lg" transform="translate(248,803) rotate(18)">3.0–4.0</text>
<text class="lg" transform="translate(289.2,803) rotate(18)">4.0–5.0</text>
<text class="lg" transform="translate(324,803) rotate(18)">5.0–6.0</text>
<text class="lg" transform="translate(359,803) rotate(18)">6.0–7.0</text>
<text class="lg" transform="translate(402,803) rotate(18)">7.0–8.0</text>
<text class="lg" transform="translate(442.5,806) rotate(18)">&gt; 8.0</text>
</svg></body></html>
